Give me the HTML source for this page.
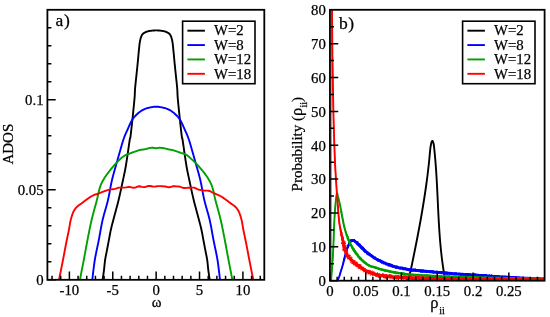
<!DOCTYPE html>
<html><head><meta charset="utf-8"><title>ADOS and probability plots</title>
<style>
html,body{margin:0;padding:0;background:#fff;width:550px;height:317px;overflow:hidden}
svg{display:block}
.t{font-family:"Liberation Serif","Times New Roman",serif;font-size:14.8px;fill:#000;stroke:#000;stroke-width:0.25px}
.sub{font-size:10px}
.lab{font-size:15px}
.rho{font-size:16.5px}
.tag{font-family:"Liberation Serif","Times New Roman",serif;font-size:17.5px;letter-spacing:0.6px;fill:#000;stroke:#000;stroke-width:0.25px}
</style></head><body>
<svg width="550" height="317" viewBox="0 0 550 317">
<rect width="550" height="317" fill="#fff"/>
<defs><clipPath id="ca"><rect x="47.40" y="9.80" width="216.90" height="270.00"/></clipPath>
<clipPath id="cb"><rect x="329.95" y="9.80" width="214.65" height="270.90"/></clipPath></defs>
<g clip-path="url(#ca)">
<polyline fill="none" stroke="#000000" stroke-width="1.90" stroke-linejoin="round" points="102.60,279.80 102.67,279.33 102.76,278.74 102.86,278.04 102.97,277.27 103.10,276.42 103.23,275.53 103.37,274.59 103.50,273.64 103.64,272.69 103.77,271.76 103.89,270.85 104.00,270.00 104.10,269.17 104.19,268.34 104.28,267.51 104.36,266.68 104.44,265.85 104.52,265.01 104.60,264.18 104.69,263.34 104.78,262.50 104.87,261.67 104.98,260.83 105.10,260.00 105.23,259.17 105.37,258.33 105.52,257.50 105.67,256.67 105.83,255.83 106.00,255.00 106.17,254.17 106.34,253.33 106.51,252.50 106.67,251.67 106.84,250.83 107.00,250.00 107.16,249.17 107.32,248.33 107.47,247.50 107.63,246.67 107.79,245.83 107.95,245.00 108.11,244.17 108.27,243.33 108.42,242.50 108.58,241.67 108.74,240.83 108.90,240.00 109.06,239.17 109.21,238.33 109.36,237.50 109.51,236.67 109.66,235.83 109.81,235.00 109.97,234.17 110.12,233.33 110.28,232.50 110.45,231.67 110.62,230.83 110.80,230.00 110.98,229.20 111.15,228.45 111.32,227.73 111.49,227.04 111.66,226.34 111.84,225.62 112.03,224.88 112.24,224.07 112.46,223.20 112.71,222.25 112.99,221.18 113.30,220.00 113.65,218.68 114.03,217.25 114.45,215.70 114.89,214.07 115.36,212.38 115.83,210.62 116.31,208.84 116.80,207.04 117.27,205.23 117.74,203.45 118.18,201.70 118.60,200.00 119.00,198.32 119.40,196.61 119.80,194.88 120.19,193.15 120.57,191.41 120.94,189.69 121.31,187.98 121.67,186.30 122.02,184.65 122.36,183.04 122.69,181.49 123.00,180.00 123.30,178.61 123.57,177.33 123.83,176.13 124.08,175.00 124.31,173.90 124.54,172.81 124.77,171.71 125.00,170.56 125.23,169.34 125.48,168.02 125.73,166.58 126.00,165.00 126.29,163.20 126.61,161.18 126.94,158.98 127.28,156.67 127.63,154.28 127.97,151.88 128.31,149.51 128.64,147.22 128.95,145.08 129.23,143.12 129.48,141.41 129.70,140.00 129.87,138.98 129.99,138.34 130.08,138.02 130.14,137.93 130.18,137.97 130.21,138.06 130.24,138.13 130.27,138.07 130.33,137.82 130.41,137.28 130.53,136.37 130.70,135.00 130.92,133.11 131.18,130.77 131.48,128.04 131.81,125.03 132.16,121.81 132.51,118.48 132.87,115.13 133.21,111.83 133.54,108.68 133.83,105.77 134.09,103.18 134.30,101.00 134.46,99.20 134.59,97.65 134.69,96.33 134.76,95.19 134.81,94.20 134.84,93.32 134.87,92.51 134.90,91.74 134.93,90.98 134.97,90.17 135.02,89.29 135.10,88.30 135.19,87.24 135.29,86.18 135.39,85.12 135.50,84.06 135.61,83.00 135.72,81.94 135.83,80.88 135.95,79.83 136.06,78.77 136.18,77.71 136.29,76.65 136.40,75.60 136.51,74.55 136.62,73.50 136.73,72.45 136.84,71.40 136.95,70.35 137.06,69.30 137.17,68.25 137.27,67.20 137.38,66.15 137.49,65.10 137.60,64.05 137.70,63.00 137.80,61.93 137.91,60.85 138.01,59.75 138.11,58.64 138.21,57.53 138.31,56.43 138.41,55.34 138.51,54.27 138.61,53.22 138.71,52.21 138.80,51.23 138.90,50.30 138.99,49.41 139.08,48.54 139.16,47.70 139.24,46.89 139.32,46.11 139.40,45.34 139.48,44.60 139.57,43.89 139.66,43.19 139.77,42.51 139.88,41.85 140.00,41.20 140.13,40.57 140.26,39.96 140.40,39.37 140.54,38.79 140.69,38.24 140.85,37.71 141.01,37.20 141.19,36.71 141.37,36.24 141.57,35.80 141.78,35.39 142.00,35.00 142.24,34.64 142.48,34.32 142.75,34.03 143.02,33.76 143.30,33.52 143.59,33.29 143.89,33.09 144.20,32.90 144.52,32.71 144.84,32.54 145.17,32.37 145.50,32.20 145.83,32.04 146.17,31.89 146.52,31.75 146.86,31.63 147.22,31.51 147.58,31.41 147.96,31.31 148.34,31.22 148.74,31.13 149.14,31.05 149.56,30.98 150.00,30.90 150.45,30.83 150.93,30.76 151.42,30.70 151.93,30.64 152.45,30.58 152.97,30.54 153.50,30.50 154.04,30.46 154.57,30.44 155.11,30.42 155.63,30.40 156.15,30.40 156.67,30.40 157.19,30.42 157.73,30.44 158.26,30.46 158.80,30.50 159.33,30.54 159.85,30.58 160.37,30.64 160.88,30.70 161.37,30.76 161.85,30.83 162.30,30.90 162.74,30.98 163.16,31.05 163.56,31.13 163.96,31.22 164.34,31.31 164.72,31.41 165.08,31.51 165.44,31.63 165.78,31.75 166.13,31.89 166.47,32.04 166.80,32.20 167.13,32.37 167.46,32.54 167.78,32.71 168.10,32.90 168.41,33.09 168.71,33.29 169.00,33.52 169.28,33.76 169.55,34.03 169.82,34.32 170.06,34.64 170.30,35.00 170.52,35.39 170.73,35.80 170.93,36.24 171.11,36.71 171.29,37.20 171.45,37.71 171.61,38.24 171.76,38.79 171.90,39.37 172.04,39.96 172.17,40.57 172.30,41.20 172.42,41.85 172.53,42.51 172.64,43.19 172.73,43.89 172.82,44.60 172.90,45.34 172.98,46.11 173.06,46.89 173.14,47.70 173.22,48.54 173.31,49.41 173.40,50.30 173.50,51.23 173.59,52.21 173.69,53.22 173.79,54.27 173.89,55.34 173.99,56.43 174.09,57.53 174.19,58.64 174.29,59.75 174.39,60.85 174.50,61.93 174.60,63.00 174.70,64.05 174.81,65.10 174.92,66.15 175.03,67.20 175.13,68.25 175.24,69.30 175.35,70.35 175.46,71.40 175.57,72.45 175.68,73.50 175.79,74.55 175.90,75.60 176.01,76.65 176.12,77.71 176.24,78.77 176.35,79.83 176.47,80.88 176.58,81.94 176.69,83.00 176.80,84.06 176.91,85.12 177.01,86.18 177.11,87.24 177.20,88.30 177.28,89.29 177.33,90.17 177.37,90.98 177.40,91.74 177.43,92.51 177.46,93.32 177.49,94.20 177.54,95.19 177.61,96.33 177.71,97.65 177.84,99.20 178.00,101.00 178.21,103.18 178.47,105.77 178.76,108.68 179.09,111.83 179.43,115.13 179.79,118.48 180.14,121.81 180.49,125.03 180.82,128.04 181.12,130.77 181.38,133.11 181.60,135.00 181.77,136.37 181.89,137.28 181.97,137.82 182.03,138.07 182.06,138.13 182.09,138.06 182.12,137.97 182.16,137.93 182.22,138.02 182.31,138.34 182.43,138.98 182.60,140.00 182.82,141.41 183.07,143.12 183.35,145.08 183.66,147.22 183.99,149.51 184.33,151.88 184.67,154.28 185.02,156.67 185.36,158.98 185.69,161.18 186.01,163.20 186.30,165.00 186.57,166.58 186.82,168.02 187.07,169.34 187.30,170.56 187.53,171.71 187.76,172.81 187.99,173.90 188.22,175.00 188.47,176.13 188.73,177.33 189.00,178.61 189.30,180.00 189.61,181.49 189.94,183.04 190.28,184.65 190.63,186.30 190.99,187.98 191.36,189.69 191.73,191.41 192.11,193.15 192.50,194.88 192.90,196.61 193.30,198.32 193.70,200.00 194.12,201.70 194.56,203.45 195.03,205.23 195.50,207.04 195.99,208.84 196.47,210.62 196.94,212.38 197.41,214.07 197.85,215.70 198.27,217.25 198.65,218.68 199.00,220.00 199.31,221.18 199.59,222.25 199.84,223.20 200.06,224.07 200.27,224.88 200.46,225.62 200.64,226.34 200.81,227.04 200.98,227.73 201.15,228.45 201.32,229.20 201.50,230.00 201.68,230.83 201.85,231.67 202.02,232.50 202.18,233.33 202.33,234.17 202.49,235.00 202.64,235.83 202.79,236.67 202.94,237.50 203.09,238.33 203.24,239.17 203.40,240.00 203.56,240.83 203.72,241.67 203.88,242.50 204.03,243.33 204.19,244.17 204.35,245.00 204.51,245.83 204.67,246.67 204.83,247.50 204.98,248.33 205.14,249.17 205.30,250.00 205.46,250.83 205.63,251.67 205.79,252.50 205.96,253.33 206.13,254.17 206.30,255.00 206.47,255.83 206.63,256.67 206.78,257.50 206.93,258.33 207.07,259.17 207.20,260.00 207.32,260.83 207.43,261.67 207.52,262.50 207.61,263.34 207.70,264.18 207.78,265.01 207.86,265.85 207.94,266.68 208.02,267.51 208.11,268.34 208.20,269.17 208.30,270.00 208.41,270.85 208.53,271.76 208.66,272.69 208.80,273.64 208.93,274.59 209.07,275.52 209.20,276.42 209.33,277.27 209.44,278.04 209.54,278.74 209.63,279.33 209.70,279.80"/>
<polyline fill="none" stroke="#0000ff" stroke-width="1.90" stroke-linejoin="round" points="92.30,279.80 92.42,278.84 92.55,277.65 92.71,276.25 92.89,274.67 93.09,272.96 93.30,271.15 93.53,269.27 93.76,267.35 94.01,265.43 94.27,263.54 94.53,261.72 94.80,260.00 95.08,258.34 95.38,256.68 95.70,255.01 96.03,253.35 96.37,251.68 96.72,250.01 97.07,248.34 97.43,246.67 97.78,245.00 98.13,243.34 98.47,241.67 98.80,240.00 99.12,238.33 99.43,236.67 99.73,235.00 100.02,233.33 100.32,231.67 100.61,230.00 100.91,228.33 101.22,226.67 101.54,225.00 101.88,223.33 102.23,221.67 102.60,220.00 103.00,218.33 103.42,216.67 103.87,215.00 104.33,213.33 104.81,211.67 105.29,210.00 105.77,208.33 106.24,206.67 106.71,205.00 107.16,203.33 107.59,201.67 108.00,200.00 108.38,198.33 108.73,196.67 109.06,195.00 109.38,193.33 109.69,191.67 109.99,190.00 110.30,188.33 110.61,186.67 110.93,185.00 111.26,183.33 111.62,181.67 112.00,180.00 112.40,178.33 112.83,176.67 113.26,175.00 113.71,173.33 114.17,171.67 114.64,170.00 115.11,168.33 115.59,166.67 116.07,165.00 116.55,163.33 117.03,161.67 117.50,160.00 117.98,158.30 118.47,156.56 118.96,154.78 119.47,152.98 119.97,151.19 120.48,149.41 120.97,147.66 121.47,145.96 121.95,144.33 122.42,142.78 122.87,141.33 123.30,140.00 123.71,138.79 124.10,137.70 124.46,136.70 124.82,135.79 125.16,134.94 125.50,134.14 125.83,133.38 126.17,132.63 126.51,131.89 126.86,131.13 127.22,130.34 127.60,129.50 127.99,128.62 128.38,127.73 128.77,126.82 129.17,125.91 129.57,125.01 129.97,124.11 130.39,123.22 130.81,122.35 131.24,121.51 131.68,120.70 132.14,119.93 132.60,119.20 133.08,118.51 133.57,117.85 134.08,117.22 134.60,116.62 135.13,116.05 135.67,115.49 136.21,114.96 136.75,114.46 137.29,113.97 137.83,113.50 138.37,113.04 138.90,112.60 139.42,112.18 139.93,111.78 140.44,111.41 140.95,111.05 141.46,110.72 141.97,110.40 142.48,110.10 143.00,109.81 143.53,109.54 144.07,109.29 144.63,109.04 145.20,108.80 145.80,108.58 146.44,108.37 147.11,108.17 147.79,108.00 148.49,107.83 149.18,107.68 149.87,107.54 150.53,107.41 151.17,107.30 151.76,107.19 152.31,107.09 152.80,107.00 153.23,106.92 153.60,106.86 153.94,106.81 154.23,106.77 154.50,106.74 154.74,106.72 154.97,106.71 155.19,106.70 155.41,106.70 155.64,106.70 155.88,106.70 156.15,106.70 156.42,106.70 156.66,106.70 156.89,106.70 157.11,106.70 157.33,106.71 157.56,106.72 157.80,106.74 158.07,106.77 158.36,106.81 158.70,106.86 159.07,106.92 159.50,107.00 159.99,107.09 160.54,107.19 161.13,107.30 161.77,107.41 162.43,107.54 163.12,107.68 163.81,107.83 164.51,108.00 165.19,108.17 165.86,108.37 166.50,108.58 167.10,108.80 167.67,109.04 168.23,109.29 168.77,109.54 169.30,109.81 169.82,110.10 170.33,110.40 170.84,110.72 171.35,111.05 171.86,111.41 172.37,111.78 172.88,112.18 173.40,112.60 173.93,113.04 174.47,113.50 175.01,113.97 175.55,114.46 176.09,114.96 176.63,115.49 177.17,116.05 177.70,116.62 178.22,117.22 178.73,117.85 179.22,118.51 179.70,119.20 180.16,119.93 180.62,120.70 181.06,121.51 181.49,122.35 181.91,123.22 182.33,124.11 182.73,125.01 183.13,125.91 183.53,126.82 183.92,127.73 184.31,128.62 184.70,129.50 185.08,130.34 185.44,131.13 185.79,131.89 186.13,132.63 186.47,133.38 186.80,134.14 187.14,134.94 187.48,135.79 187.84,136.70 188.20,137.70 188.59,138.79 189.00,140.00 189.43,141.33 189.88,142.78 190.35,144.33 190.83,145.96 191.33,147.66 191.83,149.41 192.33,151.19 192.83,152.98 193.34,154.78 193.83,156.56 194.32,158.30 194.80,160.00 195.27,161.67 195.75,163.33 196.23,165.00 196.71,166.67 197.19,168.33 197.66,170.00 198.13,171.67 198.59,173.33 199.04,175.00 199.47,176.67 199.90,178.33 200.30,180.00 200.68,181.67 201.04,183.33 201.37,185.00 201.69,186.67 202.00,188.33 202.31,190.00 202.61,191.67 202.92,193.33 203.24,195.00 203.57,196.67 203.92,198.33 204.30,200.00 204.71,201.67 205.14,203.33 205.59,205.00 206.06,206.67 206.53,208.33 207.01,210.00 207.49,211.67 207.97,213.33 208.43,215.00 208.88,216.67 209.30,218.33 209.70,220.00 210.07,221.67 210.42,223.33 210.76,225.00 211.08,226.67 211.39,228.33 211.69,230.00 211.98,231.67 212.28,233.33 212.57,235.00 212.87,236.67 213.18,238.33 213.50,240.00 213.83,241.67 214.17,243.34 214.52,245.00 214.87,246.67 215.23,248.34 215.58,250.01 215.93,251.68 216.27,253.35 216.60,255.01 216.92,256.68 217.22,258.34 217.50,260.00 217.77,261.72 218.03,263.54 218.29,265.43 218.54,267.35 218.77,269.27 219.00,271.15 219.21,272.96 219.41,274.67 219.59,276.25 219.75,277.65 219.88,278.84 220.00,279.80"/>
<polyline fill="none" stroke="#00a000" stroke-width="1.90" stroke-linejoin="round" points="80.00,279.80 80.09,279.33 80.19,278.74 80.32,278.04 80.46,277.27 80.61,276.42 80.78,275.53 80.94,274.59 81.12,273.64 81.29,272.69 81.47,271.76 81.64,270.85 81.80,270.00 81.95,269.21 82.10,268.46 82.25,267.75 82.39,267.05 82.53,266.35 82.68,265.64 82.84,264.89 83.00,264.08 83.18,263.21 83.37,262.25 83.57,261.18 83.80,260.00 84.05,258.68 84.31,257.25 84.60,255.70 84.89,254.07 85.20,252.38 85.52,250.62 85.84,248.84 86.17,247.04 86.51,245.23 86.84,243.45 87.17,241.70 87.50,240.00 87.82,238.33 88.15,236.67 88.47,235.00 88.79,233.33 89.12,231.67 89.45,230.00 89.79,228.33 90.13,226.67 90.48,225.00 90.84,223.33 91.22,221.67 91.60,220.00 92.01,218.30 92.45,216.53 92.92,214.73 93.40,212.91 93.90,211.08 94.39,209.28 94.87,207.52 95.34,205.81 95.79,204.19 96.20,202.67 96.57,201.26 96.90,200.00 97.18,198.88 97.41,197.89 97.61,197.01 97.79,196.23 97.93,195.53 98.06,194.89 98.18,194.30 98.29,193.74 98.40,193.20 98.52,192.66 98.65,192.09 98.80,191.50 98.95,190.90 99.10,190.32 99.24,189.77 99.39,189.24 99.53,188.72 99.67,188.21 99.82,187.71 99.97,187.22 100.13,186.72 100.31,186.22 100.50,185.72 100.70,185.20 100.92,184.67 101.14,184.15 101.38,183.62 101.63,183.10 101.88,182.57 102.14,182.05 102.42,181.52 102.70,181.00 102.99,180.47 103.28,179.95 103.59,179.42 103.90,178.90 104.22,178.38 104.56,177.85 104.90,177.33 105.26,176.80 105.62,176.28 105.99,175.75 106.36,175.22 106.74,174.70 107.13,174.18 107.52,173.65 107.91,173.13 108.30,172.60 108.70,172.07 109.10,171.54 109.51,171.00 109.92,170.47 110.34,169.95 110.76,169.42 111.18,168.89 111.60,168.37 112.03,167.86 112.45,167.35 112.88,166.85 113.30,166.36 113.72,165.88 114.13,165.41 114.53,164.95 114.94,164.50 115.34,164.05 115.75,163.60 116.16,163.14 116.59,162.69 117.02,162.23 117.46,161.76 117.92,161.29 118.40,160.82 118.90,160.33 119.42,159.82 119.97,159.31 120.52,158.80 121.09,158.30 121.66,157.81 122.24,157.35 122.81,156.91 123.38,156.49 123.93,156.11 124.48,155.76 125.00,155.45 125.50,155.18 125.97,154.95 126.42,154.74 126.86,154.57 127.30,154.41 127.73,154.26 128.17,154.11 128.63,153.96 129.10,153.80 129.60,153.62 130.13,153.43 130.70,153.22 131.32,152.99 131.98,152.73 132.67,152.46 133.40,152.19 134.14,151.90 134.89,151.61 135.65,151.32 136.40,151.04 137.14,150.78 137.86,150.54 138.55,150.34 139.20,150.16 139.82,150.02 140.41,149.90 140.98,149.80 141.54,149.72 142.08,149.66 142.62,149.60 143.15,149.54 143.67,149.47 144.19,149.39 144.72,149.29 145.26,149.17 145.80,149.04 146.36,148.88 146.93,148.72 147.52,148.55 148.11,148.39 148.69,148.24 149.28,148.10 149.85,147.99 150.41,147.91 150.95,147.84 151.46,147.78 151.95,147.74 152.40,147.72 152.81,147.72 153.19,147.74 153.54,147.78 153.86,147.83 154.16,147.89 154.45,147.95 154.73,148.02 155.01,148.08 155.28,148.14 155.56,148.19 155.85,148.22 156.15,148.24 156.45,148.23 156.74,148.21 157.02,148.17 157.29,148.12 157.57,148.06 157.85,148.00 158.14,147.94 158.44,147.88 158.76,147.84 159.11,147.80 159.49,147.78 159.90,147.78 160.35,147.80 160.84,147.83 161.35,147.88 161.89,147.94 162.45,148.01 163.02,148.09 163.61,148.19 164.19,148.29 164.78,148.41 165.37,148.55 165.94,148.69 166.50,148.84 167.04,148.98 167.58,149.11 168.11,149.23 168.63,149.35 169.15,149.45 169.68,149.56 170.22,149.66 170.76,149.75 171.32,149.84 171.89,149.95 172.48,150.08 173.10,150.23 173.75,150.41 174.44,150.62 175.16,150.85 175.90,151.11 176.65,151.38 177.41,151.67 178.16,151.97 178.90,152.24 179.63,152.49 180.32,152.71 180.98,152.91 181.60,153.08 182.17,153.24 182.70,153.38 183.20,153.51 183.67,153.63 184.13,153.77 184.57,153.91 185.00,154.07 185.44,154.26 185.88,154.48 186.33,154.75 186.80,155.06 187.30,155.42 187.82,155.84 188.37,156.30 188.92,156.80 189.49,157.31 190.06,157.84 190.64,158.37 191.21,158.90 191.78,159.40 192.33,159.89 192.88,160.36 193.40,160.83 193.90,161.28 194.38,161.73 194.84,162.16 195.28,162.60 195.71,163.04 196.14,163.47 196.55,163.91 196.96,164.36 197.36,164.80 197.77,165.26 198.17,165.72 198.58,166.19 199.00,166.67 199.42,167.16 199.85,167.66 200.27,168.16 200.70,168.67 201.12,169.18 201.54,169.69 201.96,170.21 202.38,170.47 202.79,171.00 203.20,171.54 203.60,172.07 204.00,172.60 204.39,173.12 204.78,173.65 205.17,174.17 205.56,174.70 205.94,175.22 206.31,175.75 206.68,176.28 207.04,176.80 207.40,177.32 207.74,177.85 208.08,178.37 208.40,178.90 208.71,179.43 209.02,179.95 209.31,180.47 209.60,181.00 209.88,181.53 210.16,182.05 210.42,182.58 210.67,183.10 210.92,183.63 211.16,184.15 211.38,184.68 211.60,185.20 211.80,185.72 211.99,186.22 212.17,186.72 212.33,187.22 212.48,187.71 212.63,188.21 212.77,188.72 212.91,189.24 213.06,189.77 213.20,190.32 213.35,190.90 213.50,191.50 213.65,192.09 213.78,192.66 213.90,193.20 214.01,193.74 214.12,194.30 214.24,194.89 214.37,195.53 214.51,196.23 214.69,197.01 214.89,197.89 215.12,198.88 215.40,200.00 215.73,201.26 216.10,202.67 216.51,204.19 216.96,205.81 217.43,207.52 217.91,209.28 218.40,211.08 218.90,212.91 219.38,214.73 219.85,216.53 220.29,218.30 220.70,220.00 221.08,221.67 221.46,223.33 221.82,225.00 222.17,226.67 222.51,228.33 222.85,230.00 223.18,231.67 223.51,233.33 223.83,235.00 224.15,236.67 224.48,238.33 224.80,240.00 225.13,241.70 225.46,243.45 225.79,245.23 226.13,247.04 226.46,248.84 226.78,250.62 227.10,252.38 227.41,254.07 227.70,255.70 227.99,257.25 228.25,258.68 228.50,260.00 228.73,261.18 228.93,262.25 229.12,263.21 229.30,264.08 229.46,264.89 229.62,265.64 229.77,266.35 229.91,267.05 230.05,267.75 230.20,268.46 230.35,269.21 230.50,270.00 230.66,270.85 230.83,271.76 231.01,272.69 231.18,273.64 231.36,274.59 231.53,275.52 231.69,276.42 231.84,277.27 231.98,278.04 232.11,278.74 232.21,279.33 232.30,279.80"/>
<polyline fill="none" stroke="#ff0000" stroke-width="1.90" stroke-linejoin="round" points="59.00,279.80 59.19,278.85 59.43,277.65 59.72,276.24 60.04,274.66 60.39,272.94 60.76,271.12 61.13,269.25 61.51,267.36 61.89,265.49 62.25,263.68 62.59,261.97 62.90,260.40 63.19,258.92 63.47,257.47 63.74,256.03 64.00,254.62 64.26,253.23 64.51,251.86 64.76,250.51 65.01,249.18 65.26,247.86 65.50,246.56 65.75,245.27 66.00,244.00 66.25,242.73 66.51,241.48 66.77,240.23 67.03,238.99 67.28,237.77 67.54,236.57 67.79,235.39 68.03,234.24 68.26,233.13 68.49,232.05 68.70,231.00 68.90,230.00 69.08,229.04 69.25,228.13 69.40,227.26 69.53,226.43 69.66,225.62 69.79,224.84 69.91,224.09 70.03,223.35 70.16,222.63 70.30,221.92 70.44,221.21 70.60,220.50 70.77,219.79 70.95,219.09 71.14,218.40 71.33,217.72 71.52,217.06 71.72,216.41 71.92,215.78 72.12,215.17 72.32,214.58 72.52,214.02 72.71,213.50 72.90,213.00 73.08,212.54 73.27,212.12 73.44,211.73 73.62,211.37 73.79,211.03 73.97,210.72 74.15,210.42 74.33,210.13 74.51,209.85 74.70,209.57 74.90,209.29 75.10,209.00 75.31,208.71 75.52,208.44 75.74,208.17 75.96,207.91 76.18,207.66 76.41,207.41 76.65,207.17 76.89,206.93 77.13,206.70 77.38,206.47 77.64,206.23 77.90,206.00 78.17,205.77 78.44,205.56 78.71,205.35 78.99,205.15 79.27,204.95 79.56,204.75 79.86,204.55 80.17,204.34 80.48,204.12 80.81,203.90 81.15,203.66 81.50,203.40 81.87,203.12 82.25,202.83 82.64,202.53 83.04,202.21 83.46,201.89 83.88,201.56 84.31,201.23 84.74,200.90 85.18,200.56 85.62,200.24 86.06,199.91 86.50,199.60 86.94,199.29 87.39,198.97 87.84,198.66 88.29,198.34 88.75,198.03 89.21,197.71 89.68,197.40 90.14,197.10 90.61,196.81 91.07,196.53 91.54,196.26 92.00,196.00 92.46,195.76 92.92,195.53 93.37,195.32 93.83,195.11 94.29,194.91 94.74,194.73 95.20,194.54 95.67,194.36 96.14,194.17 96.62,194.36 97.11,194.14 97.60,193.92 98.11,193.70 98.62,193.48 99.14,193.27 99.67,193.06 100.20,192.84 100.74,192.61 101.29,192.39 101.83,192.16 102.37,191.94 102.92,191.73 103.46,191.54 104.00,191.35 104.52,191.18 105.01,191.01 105.48,190.84 105.94,190.68 106.40,190.52 106.87,190.36 107.36,190.21 107.89,190.06 108.45,189.91 109.07,189.77 109.75,189.64 110.50,189.52 111.31,189.41 112.16,189.31 113.05,189.20 113.98,189.07 114.95,188.86 115.97,188.53 117.03,188.15 118.13,187.81 119.28,187.63 120.47,187.59 121.71,187.63 123.00,187.66 124.37,187.60 125.85,187.37 127.41,187.09 129.03,186.90 130.70,187.11 132.40,187.57 134.10,187.76 135.79,187.31 137.44,186.63 139.04,186.27 140.57,186.47 142.00,186.88 143.35,187.16 144.64,187.10 145.88,186.74 147.08,186.29 148.24,185.94 149.38,185.83 150.50,185.97 151.61,186.23 152.73,186.47 153.85,186.60 154.99,186.53 156.15,186.37 157.31,186.20 158.45,186.09 159.57,186.10 160.69,186.16 161.80,186.23 162.92,186.30 164.06,186.36 165.22,186.51 166.42,186.79 167.66,187.07 168.95,187.25 170.30,187.11 171.73,186.67 173.26,186.28 174.86,186.28 176.51,186.38 178.20,186.49 179.90,186.68 181.60,187.34 183.27,187.95 184.89,188.07 186.45,187.92 187.93,187.78 189.30,187.81 190.59,187.78 191.83,187.67 193.02,187.60 194.17,187.67 195.27,188.02 196.33,188.54 197.35,189.08 198.32,189.49 199.25,189.70 200.14,189.84 200.99,189.97 201.80,190.09 202.55,190.22 203.23,190.36 203.85,190.49 204.41,190.61 204.94,190.66 205.43,190.67 205.90,190.66 206.36,190.64 206.82,190.63 207.29,190.62 207.78,190.63 208.30,190.69 208.84,190.80 209.38,190.99 209.93,191.22 210.47,191.47 211.01,191.74 211.56,192.02 212.10,192.30 212.63,192.58 213.16,192.84 213.68,193.07 214.19,193.28 214.70,193.46 215.19,193.62 215.68,193.76 216.16,194.17 216.63,194.36 217.10,194.54 217.56,194.72 218.01,194.91 218.47,195.11 218.93,195.32 219.38,195.53 219.84,195.76 220.30,196.00 220.76,196.26 221.23,196.53 221.69,196.81 222.16,197.10 222.62,197.40 223.09,197.71 223.55,198.03 224.01,198.34 224.46,198.66 224.91,198.97 225.36,199.29 225.80,199.60 226.24,199.91 226.68,200.24 227.12,200.56 227.56,200.90 227.99,201.23 228.42,201.56 228.84,201.89 229.26,202.21 229.66,202.53 230.05,202.83 230.43,203.12 230.80,203.40 231.15,203.66 231.49,203.90 231.82,204.12 232.13,204.34 232.44,204.55 232.74,204.75 233.03,204.95 233.31,205.15 233.59,205.35 233.86,205.56 234.13,205.77 234.40,206.00 234.66,206.23 234.92,206.47 235.17,206.70 235.41,206.93 235.65,207.17 235.89,207.41 236.12,207.66 236.34,207.91 236.56,208.17 236.78,208.44 236.99,208.71 237.20,209.00 237.40,209.29 237.60,209.57 237.79,209.85 237.97,210.13 238.15,210.42 238.33,210.72 238.51,211.03 238.68,211.37 238.86,211.73 239.03,212.12 239.22,212.54 239.40,213.00 239.59,213.50 239.78,214.02 239.98,214.58 240.18,215.17 240.38,215.78 240.58,216.41 240.78,217.06 240.97,217.72 241.16,218.40 241.35,219.09 241.53,219.79 241.70,220.50 241.86,221.21 242.00,221.92 242.14,222.63 242.27,223.35 242.39,224.09 242.51,224.84 242.64,225.62 242.77,226.43 242.90,227.26 243.05,228.13 243.22,229.04 243.40,230.00 243.60,231.00 243.81,232.05 244.04,233.13 244.27,234.24 244.51,235.39 244.76,236.57 245.02,237.77 245.27,238.99 245.53,240.23 245.79,241.48 246.05,242.73 246.30,244.00 246.55,245.27 246.80,246.56 247.04,247.86 247.29,249.18 247.54,250.51 247.79,251.86 248.04,253.23 248.30,254.62 248.56,256.03 248.83,257.47 249.11,258.92 249.40,260.40 249.71,261.97 250.05,263.68 250.41,265.49 250.79,267.36 251.17,269.25 251.54,271.12 251.91,272.94 252.26,274.66 252.58,276.24 252.87,277.65 253.11,278.85 253.30,279.80"/>
</g>
<g clip-path="url(#cb)">
<line x1="331.25" y1="281" x2="331.25" y2="5" stroke="#ff0000" stroke-width="0.9" stroke-opacity="0.75"/>
<polyline fill="none" stroke="#000000" stroke-width="1.90" stroke-linejoin="round" points="325.00,281.60 329.78,281.60 336.34,281.61 344.22,281.61 353.01,281.62 362.25,281.63 371.51,281.63 380.36,281.63 388.34,281.63 395.04,281.62 400.00,281.60 403.28,281.58 405.36,281.56 406.46,281.54 406.77,281.51 406.51,281.48 405.89,281.44 405.12,281.40 404.41,281.34 403.97,281.28 404.00,281.20 404.33,281.11 404.66,281.00 404.97,280.89 405.27,280.76 405.56,280.63 405.84,280.49 406.10,280.35 406.35,280.20 406.58,280.05 406.80,279.90 407.00,279.75 407.18,279.59 407.34,279.44 407.49,279.27 407.62,279.11 407.75,278.94 407.86,278.76 407.98,278.58 408.09,278.39 408.20,278.20 408.30,278.02 408.39,277.85 408.47,277.70 408.55,277.54 408.62,277.37 408.69,277.18 408.77,276.96 408.85,276.69 408.95,276.38 409.07,276.00 409.20,275.57 409.35,275.11 409.50,274.61 409.67,274.07 409.84,273.49 410.02,272.87 410.20,272.21 410.38,271.52 410.57,270.78 410.76,270.00 410.95,269.16 411.15,268.26 411.36,267.29 411.57,266.29 411.78,265.25 412.00,264.19 412.21,263.13 412.43,262.06 412.64,261.02 412.85,260.00 413.06,259.00 413.26,258.00 413.47,257.00 413.67,256.00 413.88,255.00 414.08,254.00 414.28,253.00 414.49,252.00 414.69,251.00 414.89,250.00 415.09,249.00 415.29,248.00 415.49,247.00 415.69,246.00 415.89,245.00 416.09,244.00 416.28,243.00 416.48,242.00 416.68,241.00 416.87,240.00 417.06,239.00 417.26,238.00 417.45,237.00 417.64,236.00 417.83,235.00 418.02,234.00 418.21,233.00 418.40,232.00 418.59,231.00 418.78,230.00 418.97,229.00 419.15,228.00 419.34,227.00 419.53,226.00 419.71,225.00 419.89,224.00 420.08,223.00 420.26,222.00 420.44,221.00 420.62,220.00 420.80,219.00 420.98,218.00 421.15,217.00 421.33,216.00 421.50,215.00 421.68,214.00 421.85,213.00 422.02,212.00 422.19,211.00 422.36,210.00 422.53,209.00 422.69,208.00 422.86,207.00 423.03,206.00 423.19,205.00 423.35,204.00 423.51,203.00 423.67,202.00 423.83,201.00 423.99,200.00 424.15,199.00 424.30,198.00 424.46,197.00 424.61,196.00 424.77,195.00 424.92,194.00 425.07,193.00 425.22,192.00 425.36,191.00 425.51,190.00 425.65,189.00 425.80,188.00 425.94,187.00 426.08,186.00 426.22,185.00 426.36,184.00 426.50,183.00 426.63,182.00 426.77,181.00 426.90,180.00 427.03,179.00 427.16,178.00 427.29,177.00 427.41,176.00 427.54,175.00 427.66,174.00 427.78,173.00 427.90,172.00 428.02,171.00 428.14,170.00 428.26,169.00 428.37,168.00 428.49,167.00 428.60,166.00 428.71,165.00 428.82,164.00 428.93,163.00 429.03,162.00 429.14,161.00 429.24,160.00 429.34,158.98 429.44,157.91 429.54,156.83 429.63,155.74 429.73,154.66 429.82,153.60 429.91,152.60 430.00,151.65 430.08,150.78 430.16,150.00 430.24,149.32 430.30,148.73 430.37,148.20 430.43,147.74 430.49,147.33 430.55,146.94 430.61,146.58 430.67,146.23 430.73,145.87 430.80,145.50 430.87,145.12 430.93,144.75 431.00,144.39 431.07,144.04 431.13,143.71 431.20,143.39 431.27,143.09 431.35,142.80 431.42,142.54 431.50,142.30 431.58,142.07 431.67,141.86 431.76,141.66 431.85,141.48 431.94,141.31 432.04,141.17 432.13,141.06 432.22,140.97 432.31,140.92 432.40,140.90 432.48,140.92 432.57,140.98 432.65,141.07 432.74,141.20 432.82,141.34 432.90,141.51 432.98,141.70 433.05,141.89 433.13,142.09 433.20,142.30 433.27,142.51 433.34,142.72 433.40,142.94 433.46,143.18 433.52,143.43 433.58,143.69 433.64,143.98 433.70,144.29 433.76,144.63 433.82,145.00 433.88,145.38 433.93,145.77 433.98,146.17 434.03,146.59 434.08,147.04 434.13,147.53 434.19,148.06 434.24,148.64 434.31,149.29 434.38,150.00 434.46,150.80 434.55,151.68 434.64,152.63 434.74,153.64 434.84,154.69 434.94,155.76 435.04,156.84 435.14,157.92 435.23,158.98 435.32,160.00 435.40,161.00 435.49,162.00 435.57,163.00 435.64,164.00 435.72,165.00 435.79,166.00 435.87,167.00 435.94,168.00 436.01,169.00 436.08,170.00 436.15,171.00 436.21,172.00 436.28,173.00 436.34,174.00 436.40,175.00 436.47,176.00 436.53,177.00 436.58,178.00 436.64,179.00 436.70,180.00 436.76,181.00 436.81,182.00 436.87,183.00 436.92,184.00 436.97,185.00 437.03,186.00 437.08,187.00 437.13,188.00 437.18,189.00 437.23,190.00 437.28,191.00 437.33,192.00 437.38,193.00 437.43,194.00 437.47,195.00 437.52,196.00 437.57,197.00 437.62,198.00 437.66,199.00 437.71,200.00 437.76,201.00 437.80,202.00 437.85,203.00 437.90,204.00 437.94,205.00 437.99,206.00 438.04,207.00 438.08,208.00 438.13,209.00 438.18,210.00 438.23,211.00 438.28,212.00 438.33,213.00 438.38,214.00 438.43,215.00 438.48,216.00 438.54,217.00 438.59,218.00 438.64,219.00 438.70,220.00 438.76,221.00 438.81,222.00 438.87,223.00 438.93,224.00 438.99,225.00 439.05,226.00 439.11,227.00 439.17,228.00 439.23,229.00 439.30,230.00 439.37,231.00 439.43,232.00 439.50,233.00 439.57,234.00 439.65,235.00 439.72,236.00 439.79,237.00 439.87,238.00 439.95,239.00 440.03,240.00 440.11,241.00 440.20,242.00 440.29,243.00 440.37,244.00 440.46,245.00 440.56,246.00 440.65,247.00 440.75,248.00 440.85,249.00 440.95,250.00 441.05,251.00 441.16,252.00 441.27,253.00 441.38,254.00 441.49,255.00 441.60,256.00 441.72,257.00 441.84,258.00 441.96,259.00 442.09,260.00 442.22,261.02 442.36,262.06 442.51,263.13 442.65,264.19 442.80,265.25 442.95,266.29 443.10,267.29 443.24,268.26 443.37,269.16 443.50,270.00 443.62,270.78 443.72,271.50 443.83,272.19 443.93,272.83 444.02,273.44 444.11,274.01 444.20,274.55 444.30,275.06 444.39,275.54 444.49,276.00 444.59,276.43 444.67,276.81 444.76,277.16 444.85,277.48 444.93,277.78 445.02,278.04 445.12,278.30 445.23,278.54 445.36,278.77 445.50,279.00 445.66,279.22 445.83,279.42 446.01,279.60 446.20,279.77 446.41,279.93 446.62,280.08 446.83,280.22 447.05,280.35 447.28,280.47 447.50,280.60 447.29,280.72 446.41,280.84 445.14,280.95 443.78,281.05 442.62,281.14 441.96,281.23 442.07,281.31 443.25,281.38 445.80,281.45 450.00,281.50 456.50,281.54 465.36,281.57 475.98,281.59 487.78,281.60 500.16,281.61 512.52,281.61 524.28,281.60 534.84,281.60 543.61,281.60 550.00,281.60"/>
<polyline fill="none" stroke="#0000ff" stroke-width="1.90" stroke-linejoin="round" stroke-linecap="round" points="325.00,281.60 325.63,281.60 326.48,281.60 327.51,281.61 328.65,281.61 329.86,281.61 331.08,281.61 332.26,281.60 333.34,281.58 334.27,281.55 335.00,281.50 335.54,281.45 335.95,281.39 336.25,281.33 336.47,281.27 336.62,281.19 336.73,281.09 336.82,280.98 336.92,280.85 337.04,280.69 337.20,280.50 337.39,280.28 337.57,280.04 337.75,279.78 337.92,279.50 338.09,279.20 338.25,278.88 338.41,278.54 338.57,278.18 338.74,277.80 338.90,277.40 339.06,276.99 339.21,276.57 339.36,276.14 339.50,275.69 339.65,275.22 339.80,274.72 339.96,274.20 340.12,273.64 340.30,273.04 340.50,272.40 340.72,271.71 340.95,270.96 341.20,270.18 341.46,269.35 341.73,268.50 341.99,267.63 342.26,266.76 342.52,265.89 342.77,265.03 343.00,264.20 343.22,263.37 343.44,262.52 343.65,261.65 343.86,260.79 344.06,259.93"/>
<polyline fill="none" stroke="#0000ff" stroke-width="2.00" stroke-linejoin="round" stroke-linecap="round" points="344.06,259.93 344.25,259.09 344.45,258.26 344.63,257.47 344.82,256.71 345.00,256.00 345.18,255.34 345.34,254.72 345.51,254.14 345.66,253.58 345.82,253.05"/>
<polyline fill="none" stroke="#0000ff" stroke-width="2.10" stroke-linejoin="round" stroke-linecap="round" points="345.82,253.05 345.97,252.53 346.13,252.03 346.28,251.52 346.44,251.02 346.60,250.50 346.77,249.97 346.93,249.45 347.10,248.92 347.26,248.40 347.43,247.89 347.60,247.38"/>
<polyline fill="none" stroke="#0000ff" stroke-width="2.20" stroke-linejoin="round" stroke-linecap="round" points="347.60,247.38 347.77,246.89 347.95,246.41 348.12,245.95 348.30,245.50 348.48,245.07 348.67,244.64 348.86,244.22 349.05,243.82 349.24,243.42 349.44,243.05"/>
<polyline fill="none" stroke="#0000ff" stroke-width="2.30" stroke-linejoin="round" stroke-linecap="round" points="349.44,243.05 349.63,242.70 349.82,242.37 350.01,242.07 350.20,241.80 350.38,241.56 350.56,241.35 350.74,241.16 350.92,241.00 351.09,240.86 351.27,240.73"/>
<polyline fill="none" stroke="#0000ff" stroke-width="2.40" stroke-linejoin="round" stroke-linecap="round" points="351.27,240.73 351.45,240.63 351.63,240.54 351.81,240.46 352.00,240.40 352.19,240.35 352.39,240.32 352.59,240.30 352.79,240.30 352.99,240.32 353.19,240.35"/>
<polyline fill="none" stroke="#0000ff" stroke-width="2.50" stroke-linejoin="round" stroke-linecap="round" points="353.19,240.35 353.39,240.39 353.60,240.45 353.80,240.52 354.00,240.60 354.20,240.69 354.38,240.80 354.57,240.91 354.75,241.04 354.94,241.19"/>
<polyline fill="none" stroke="#0000ff" stroke-width="2.60" stroke-linejoin="round" stroke-linecap="round" points="354.94,241.19 355.13,241.34 355.33,241.51 355.54,241.70 355.76,241.89 356.00,242.10 356.26,242.33 356.54,242.57 356.83,242.84"/>
<polyline fill="none" stroke="#0000ff" stroke-width="2.70" stroke-linejoin="round" stroke-linecap="round" points="356.83,242.84 357.13,243.11 357.44,243.40 357.75,243.70 358.07,244.00 358.38,244.30 358.70,244.60"/>
<polyline fill="none" stroke="#0000ff" stroke-width="2.80" stroke-linejoin="round" stroke-linecap="round" points="358.70,244.60 359.00,244.90 359.30,245.20 359.60,245.51 359.90,245.82 360.20,246.13 360.50,246.45"/>
<polyline fill="none" stroke="#0000ff" stroke-width="2.90" stroke-linejoin="round" stroke-linecap="round" points="360.50,246.45 360.80,246.77 361.10,247.08 361.40,247.39 361.70,247.70 362.00,248.00 362.30,248.29"/>
<polyline fill="none" stroke="#0000ff" stroke-width="3.00" stroke-linejoin="round" stroke-linecap="round" points="362.30,248.29 362.60,248.58 362.90,248.87 363.20,249.16 363.50,249.44 363.80,249.72 364.10,249.99 364.40,250.26 364.70,250.53 365.00,250.80 365.30,251.06 365.60,251.32 365.90,251.58 366.20,251.83 366.50,252.08 366.80,252.33 367.10,252.57 367.40,252.82 367.70,253.06 368.00,253.30 368.30,253.54 368.58,253.77 368.87,254.00 369.15,254.22 369.44,254.44 369.73,254.67 370.03,254.89 370.34,255.12 370.66,255.36 371.00,255.60 371.36,255.85 371.72,256.10 372.10,256.35 372.48,256.61 372.88,256.88 373.28,257.14 373.69,257.40 374.12,257.67 374.55,257.93 375.00,258.20 375.46,258.47 375.94,258.74 376.43,259.02 376.93,259.29 377.44,259.57 377.95,259.84 378.47,260.12 378.98,260.38 379.50,260.65 380.00,260.90 380.50,261.15 381.00,261.39 381.50,261.63 382.00,261.86 382.50,262.09 383.00,262.32 383.50,262.54 384.00,262.77 384.50,262.98 385.00,263.20 385.50,263.41 386.00,263.63 386.50,263.83 387.00,264.04 387.50,264.24 388.00,264.44 388.50,264.64 389.00,264.83 389.50,265.02 390.00,265.20 390.50,265.38 391.00,265.55 391.50,265.72 392.00,265.89 392.50,266.05 393.00,266.21 393.50,266.36 394.00,266.51 394.50,266.66 395.00,266.80 395.48,266.93 395.92,267.06 396.34,267.17 396.76,267.28 397.19,267.39 397.64,267.50 398.13,267.62 398.68,267.73 399.30,267.86 400.00,268.00 400.80,268.15 401.68,268.32 402.63,268.49 403.64,268.67 404.69,268.86 405.76,269.04 406.84,269.22 407.92,269.39 408.98,269.55 410.00,269.70 411.00,269.84 412.00,269.96 413.00,270.08 414.00,270.19 415.00,270.30 416.00,270.40 417.00,270.50 418.00,270.60 419.00,270.70 420.00,270.80 421.00,270.90 422.00,270.99 423.00,271.08 424.00,271.17 425.00,271.26 426.00,271.35 427.00,271.44 428.00,271.52 429.00,271.61 430.00,271.70 430.98,271.79 431.92,271.88 432.84,271.96 433.76,272.05 434.69,272.13 435.64,272.22 436.63,272.31 437.68,272.40 438.80,272.50 440.00,272.60 441.30,272.71 442.68,272.82 444.13,272.94 445.64,273.07 447.19,273.19 448.76,273.32 450.34,273.45 451.92,273.57 453.48,273.69 455.00,273.80 456.50,273.91 458.00,274.01 459.50,274.11 461.00,274.21 462.50,274.31 464.00,274.41 465.50,274.51 467.00,274.60 468.50,274.70 470.00,274.80 471.50,274.90 473.00,275.00 474.50,275.10 476.00,275.20 477.50,275.30 479.00,275.40 480.50,275.50 482.00,275.60 483.50,275.70 485.00,275.80 486.48,275.90 487.92,276.00 489.34,276.10 490.76,276.20 492.19,276.29 493.64,276.39 495.13,276.49 496.68,276.59 498.30,276.70 500.00,276.80 501.78,276.91 503.62,277.01 505.51,277.12 507.45,277.23 509.44,277.34 511.47,277.45 513.55,277.56 515.66,277.67 517.82,277.79 520.00,277.90 522.35,278.02 524.93,278.15 527.66,278.29 530.46,278.43 533.25,278.57 535.94,278.70 538.44,278.83 540.67,278.94 542.55,279.03 544.00,279.10"/>
<polyline fill="none" stroke="#0000ff" stroke-width="1.0" stroke-linejoin="miter" points="325.0,281.6 325.2,281.6 325.4,281.6 325.6,281.6 325.8,281.6 326.1,281.6 326.3,281.6 326.5,281.6 326.7,281.6 326.9,281.6 327.1,281.6 327.3,281.6 327.5,281.6 327.7,281.6 328.0,281.6 328.2,281.6 328.4,281.6 328.7,281.6 328.9,281.6 329.1,281.6 329.3,281.6 329.5,281.6 329.7,281.6 329.9,281.6 330.1,281.6 330.3,281.6 330.5,281.6 330.7,281.6 330.9,281.6 331.1,281.6 331.3,281.6 331.6,281.6 331.8,281.6 332.0,281.6 332.3,281.6 332.5,281.6 332.7,281.6 332.9,281.6 333.1,281.6 333.3,281.6 333.6,281.6 333.8,281.6 334.0,281.6 334.3,281.5 334.5,281.5 334.8,281.5 335.0,281.5 335.3,281.5 335.5,281.4 335.7,281.4 335.9,281.4 336.2,281.3 336.5,281.3 336.6,281.2 336.7,281.1 336.8,281.0 336.9,280.8 337.0,280.7 337.2,280.5 337.4,280.3 337.6,280.0 337.7,279.8 337.9,279.5 338.1,279.2 338.3,278.9 338.4,278.5 338.6,278.2 338.7,278.0 338.7,277.8 338.8,277.6 338.9,277.4 339.0,277.2 339.1,277.0 339.1,276.8 339.2,276.6 339.3,276.4 339.4,276.1 339.4,275.9 339.5,275.7 339.6,275.5 339.6,275.2 339.7,275.0 339.8,274.7 339.9,274.5 340.0,274.2 340.0,273.9 340.1,273.6 340.2,273.4 340.2,273.2 340.3,273.0 340.4,272.8 340.4,272.6 340.5,272.4 340.6,272.2 340.6,271.9 340.7,271.7 340.8,271.5 340.9,271.2 341.0,271.0 341.0,270.8 341.1,270.6 341.1,270.4 341.2,270.2 341.3,270.0 341.3,269.8 341.4,269.6 341.5,269.4 341.5,269.1 341.6,268.9 341.7,268.7 341.7,268.5 341.8,268.3 341.9,268.1 341.9,267.9 342.0,267.6 342.1,267.4 342.1,267.2 342.2,267.0 342.3,266.8 342.3,266.5 342.4,266.3 342.5,266.1 342.5,265.9 342.6,265.7 342.6,265.5 342.7,265.2 342.8,265.0 342.8,264.8 342.9,264.6 342.9,264.4 342.5,264.1 343.3,264.1 343.3,263.8 343.1,263.6 342.8,263.3 343.7,263.3 343.8,263.1 343.4,262.7 343.4,262.5 343.1,262.2 342.8,261.9 343.4,261.8 343.8,261.7 343.0,261.3 344.2,261.3 343.4,260.9 343.4,260.7 343.2,260.4 344.7,260.5 344.4,260.2 344.6,260.1 344.3,259.8 343.4,259.3 343.9,259.2 344.2,259.1 343.7,258.7 345.1,258.8 344.2,258.4 343.9,258.1 345.0,258.2 344.0,257.7 345.3,257.8 344.6,257.4 344.8,257.2 344.5,256.9 344.8,256.7 344.4,256.4 344.2,256.1 345.6,256.1 344.6,255.7 345.6,255.7 344.7,255.2 346.0,255.3 345.9,255.1 345.7,254.8 345.8,254.6 345.6,254.4 345.9,254.2 345.0,253.7 345.6,253.6 346.2,253.5 345.4,252.9 346.5,253.0 346.6,252.7 345.9,252.2 345.9,252.0 346.1,251.8 346.1,251.5 347.1,251.5 346.3,251.0 345.8,250.5 346.0,250.3 347.0,250.3 347.5,250.2 346.8,249.7 346.9,249.4 347.1,249.2 347.5,249.0 346.8,248.5 347.4,248.5 347.4,248.2 347.6,247.9 347.0,247.5 347.1,247.2 347.5,247.1 348.4,247.1 347.6,246.6 348.1,246.5 347.4,245.9 346.9,245.5 346.8,245.2 349.3,245.9 349.3,245.6 348.1,244.9 349.1,245.1 349.2,244.9 350.0,245.0 350.3,244.9 348.7,243.9 350.5,244.5 350.6,244.3 349.5,243.6 350.5,243.8 349.4,243.0 349.2,242.7 348.9,242.3 350.9,243.1 349.1,241.4 349.0,240.9 351.2,242.2 351.3,242.0 350.7,241.1 351.7,241.9 350.2,239.6 350.8,240.0 351.1,240.0 351.5,240.3 351.4,239.4 351.6,239.0 352.1,239.8 352.6,241.7 352.7,241.9 352.8,241.1 353.0,240.2 353.3,239.5 353.0,241.9 353.6,240.5 353.5,241.2 354.6,239.1 354.6,239.8 353.8,241.8 354.0,241.8 354.0,242.1 354.7,241.5 355.3,241.1 355.1,241.7 354.8,242.6 356.2,241.4 355.9,242.2 356.8,241.8 355.9,243.3 357.9,241.6 356.6,243.4 356.1,244.2 358.4,242.1 357.2,243.6 357.3,243.9 356.9,244.6 357.7,244.1 358.6,243.4 358.4,243.9 357.3,245.4 357.6,245.4 359.6,243.7 359.8,243.8 360.0,243.9 360.3,243.9 359.4,245.1 360.3,244.5 358.7,246.4 359.4,246.0 360.8,244.9 360.0,246.1 360.6,245.7 360.4,246.3 361.2,245.8 361.5,245.8 361.6,246.0 361.3,246.6 360.6,247.6 361.1,247.4 362.5,246.3 361.0,248.0 360.8,248.6 361.2,248.5 361.3,248.7 363.3,247.0 362.4,248.2 363.5,247.4 362.0,249.2 363.5,247.9 362.4,249.4 363.6,248.4 362.7,249.6 363.8,248.8 364.6,248.3 363.9,249.3 364.2,249.2 363.0,250.9 364.6,249.5 364.2,250.1 364.3,250.4 363.5,251.5 365.6,249.5 364.6,250.9 365.0,250.8 364.8,251.7 364.6,252.5 366.3,251.1 365.8,252.4 366.4,252.1 366.7,252.5 368.0,251.4 366.7,253.6 366.7,254.3 368.3,252.9 368.7,253.1 367.5,255.1 369.7,252.9 370.0,253.1 370.3,253.3 369.1,255.5 369.5,255.6 370.4,255.0 370.4,255.7 371.8,254.2 370.7,256.0 371.3,255.6 371.3,255.9 371.8,255.7 371.9,255.8 372.4,255.5 373.0,255.1 372.4,256.3 373.0,255.9 372.3,257.3 372.3,257.8 372.7,257.6 373.4,257.0 374.0,256.5 373.9,257.1 373.9,257.5 373.9,258.1 373.5,259.1 375.3,256.7 374.8,258.0 375.0,258.2 374.9,259.0 374.8,259.6 375.2,259.4 375.7,259.1 375.8,259.6 376.1,259.5 376.1,260.2 376.6,259.9 376.9,260.0 377.8,258.8 377.0,261.0 378.1,259.5 378.0,260.3 378.0,261.1 378.0,261.6 378.2,261.9 380.0,259.0 379.8,260.1 380.0,260.2 380.2,260.6 380.8,259.9 380.4,261.3 381.4,260.0 381.3,260.8 380.6,262.9 381.1,262.4 381.8,261.6 382.6,260.7 381.6,263.4 382.2,262.7 383.2,261.3 383.2,261.8 383.1,262.9 383.2,263.1 384.1,261.9 383.4,264.2 384.5,262.3 384.8,262.2 384.3,264.2 385.5,262.1 385.0,263.9 385.9,262.5 385.6,263.8 386.3,262.9 386.4,263.4 385.9,265.2 386.8,263.8 387.1,263.8 387.1,264.5 387.8,263.6 388.2,263.3 388.1,264.1 388.5,263.8 388.9,263.7 388.2,266.2 389.6,263.3 388.9,265.9 389.0,266.4 389.5,265.8 390.6,263.7 390.2,265.3 391.0,263.9 390.6,265.8 390.8,266.2 391.5,264.8 392.0,264.1 391.7,265.9 392.4,264.6 392.5,265.4 392.5,265.9 392.3,267.4 393.1,265.8 393.6,265.1 393.2,267.3 393.4,267.5 394.0,266.6 394.7,265.1 394.8,265.6 394.8,266.4 395.0,267.0 395.5,266.0 395.2,267.9 395.4,268.1 395.5,268.5 395.8,268.4 396.8,265.6 396.5,267.5 397.1,265.9 396.6,268.7 397.0,268.2 397.2,268.3 397.9,266.5 398.2,266.1 397.9,268.7 398.3,268.0 398.6,268.1 398.9,267.7 398.9,268.8 399.4,267.3 399.7,267.1 399.9,267.5 400.1,267.3 400.1,268.5 400.1,269.4 400.9,266.7 401.1,266.7 401.0,268.2 401.1,268.8 401.7,267.2 401.8,267.5 402.2,266.9 402.4,266.9 402.4,268.4 402.5,269.1 402.7,269.0 403.2,267.4 403.5,267.3 403.2,270.1 403.6,268.8 403.9,268.4 403.9,269.4 404.1,269.5 404.5,268.9 404.9,267.4 404.7,270.0 405.3,268.0 405.6,267.4 405.6,268.5 405.7,269.1 405.9,269.5 406.4,268.0 406.3,269.8 406.6,269.2 407.0,268.1 406.9,270.4 407.1,270.3 407.3,270.7 407.6,270.0 408.1,268.4 408.0,270.4 408.1,270.8 408.5,269.6 408.6,270.9 408.7,271.1 409.2,269.2 409.2,271.1 409.4,271.1 409.7,270.7 410.2,268.1 410.3,269.2 410.3,270.1 410.6,270.1 410.7,270.7 410.9,270.3 411.3,268.7 411.2,271.3 411.6,270.0 411.6,271.2 412.1,269.0 412.0,271.7 412.4,270.2 412.5,271.0 412.7,270.9 412.9,271.4 413.3,269.6 413.6,268.7 413.6,269.8 413.9,269.1 414.0,270.3 414.1,271.3 414.5,269.8 414.7,269.0 415.0,268.7 415.0,270.0 415.2,270.6 415.6,268.7 415.5,270.9 415.9,269.4 416.1,269.1 416.1,271.9 416.4,270.5 416.5,271.8 416.8,270.5 417.1,269.2 417.3,269.6 417.4,270.3 417.6,271.0 417.7,271.5 417.9,271.5 418.1,271.1 418.5,269.8 418.6,270.4 418.8,270.3 419.0,270.7 419.3,269.9 419.4,270.9 419.6,270.6 420.0,269.2 419.9,271.9 420.2,271.1 420.3,271.9 420.5,271.7 420.7,271.7 420.8,272.6 421.2,270.5 421.4,270.6 421.8,269.3 421.7,271.5 422.0,271.3 422.2,271.3 422.2,272.7 422.7,270.0 422.9,270.1 422.9,271.9 423.1,272.2 423.4,271.1 423.7,269.6 423.8,270.7 423.9,272.3 424.2,271.2 424.4,271.1 424.6,270.9 424.8,271.7 425.0,271.6 425.1,271.9 425.3,272.5 425.5,272.2 425.8,270.9 426.1,270.5 426.1,272.3 426.3,272.4 426.5,272.9 426.9,270.4 426.9,272.6 427.1,272.8 427.5,270.0 427.7,270.8 427.8,272.0 428.1,270.3 428.1,272.7 428.5,270.8 428.5,272.2 428.9,270.9 429.1,270.7 429.3,270.6 429.4,271.6 429.5,272.4 429.9,270.7 429.9,272.3 430.3,271.2 430.4,272.2 430.8,271.3 431.1,270.8 431.3,270.6 431.6,270.3 431.6,272.5 431.9,271.6 432.3,270.6 432.3,273.2 432.6,272.5 433.0,270.3 433.0,272.7 433.3,272.3 433.5,271.8 433.8,272.0 433.8,273.6 434.3,271.7 434.4,272.6 434.6,272.6 435.0,271.7 435.2,271.7 435.3,273.1 435.6,272.7 435.9,272.1 436.1,272.3 436.5,271.3 436.5,273.3 437.0,270.7 437.0,272.8 437.3,272.2 437.6,271.4 437.7,272.7 437.9,272.7 438.2,271.0 438.4,272.4 438.7,271.3 438.7,273.5 439.0,271.9 439.2,272.0 439.5,271.6 439.7,271.0 439.9,271.5 440.1,271.4 440.2,273.0 440.3,273.8 440.7,271.7 441.0,271.4 441.1,272.8 441.4,271.4 441.6,272.4 441.7,273.6 442.1,271.8 442.2,273.5 442.4,272.9 442.8,271.4 443.0,272.0 443.1,273.2 443.4,271.5 443.6,271.9 443.7,273.2 443.8,274.0 444.1,273.0 444.3,273.5 444.7,271.3 444.8,272.3 445.0,272.4 445.1,274.4 445.5,272.6 445.6,274.0 446.0,271.5 446.1,273.1 446.2,274.4 446.4,274.1 446.7,273.4 447.1,272.1 447.1,274.6 447.5,271.8 447.5,274.8 447.8,274.2 448.0,274.0 448.3,273.4 448.6,272.2 448.8,272.8 448.9,273.9 449.2,273.9 449.5,273.0 449.6,274.4 450.0,271.9 450.2,272.7 450.5,272.1 450.6,272.9 450.7,274.5 451.0,274.4 451.3,272.3 451.5,272.9 451.8,272.2 451.9,274.1 452.2,273.4 452.4,272.7 452.6,273.2 452.7,274.9 453.1,273.4 453.2,274.3 453.4,274.1 453.7,273.6 453.9,273.9 454.2,273.3 454.4,272.7 454.6,273.7 454.8,273.1 455.0,273.2 455.3,272.8 455.3,275.2 455.7,273.6 455.9,272.8 456.2,272.3 456.4,272.9 456.4,275.2 456.8,273.4 456.9,274.5 457.2,273.0 457.3,274.5 457.6,273.8 457.7,274.8 458.0,274.1 458.2,273.6 458.5,273.3 458.6,274.4 458.8,275.2 459.0,274.7 459.3,274.0 459.5,273.5 459.6,275.5 459.9,275.3 460.2,273.0 460.3,274.8 460.5,275.1 460.7,274.8 460.9,275.8 461.1,275.5 461.5,273.4 461.5,275.9 461.9,273.7 462.1,273.9 462.2,275.9 462.6,273.2 462.7,274.0 462.9,274.8 463.2,273.6 463.4,273.6 463.5,275.4 463.8,274.8 463.9,275.2 464.2,275.4 464.3,275.7 464.6,275.8 464.8,275.6 465.0,276.1 465.3,274.5 465.5,275.2 465.7,274.6 465.8,276.1 466.1,275.1 466.4,274.3 466.5,275.1 466.8,273.9 467.1,273.3 467.2,274.2 467.5,273.4 467.8,273.0 467.9,273.3 468.1,274.5 468.2,275.6 468.6,273.2 468.7,275.2 469.0,273.4 469.1,274.8 469.4,274.1 469.6,274.6 469.7,275.5 470.0,274.5 470.2,274.4 470.4,275.6 470.7,273.5 470.9,274.3 471.0,275.6 471.2,276.0 471.4,276.5 471.8,274.1 471.9,275.4 472.2,274.3 472.3,275.6 472.5,276.1 472.9,273.7 473.0,274.5 473.1,276.5 473.5,274.5 473.6,275.5 473.8,276.1 474.1,274.3 474.2,276.0 474.6,273.4 474.8,274.6 475.0,274.0 475.2,274.6 475.4,274.2 475.7,273.6 475.7,276.2 476.1,274.1 476.2,275.5 476.4,275.4 476.6,276.4 476.8,276.4 477.0,275.7 477.4,274.2 477.4,276.2 477.8,273.9 477.8,276.8 478.2,274.7 478.4,274.5 478.6,274.4 478.8,275.0 478.9,276.4 479.1,276.6 479.4,276.3 479.6,276.2 479.9,274.6 480.1,274.9 480.3,274.8 480.5,275.3 480.6,276.8 480.8,277.2 481.2,274.1 481.3,277.1 481.5,277.0 481.8,275.5 482.0,276.3 482.1,276.6 482.5,274.6 482.6,276.0 482.7,277.3 483.0,277.0 483.2,277.1 483.6,274.3 483.7,276.4 483.9,275.7 484.1,277.1 484.4,274.6 484.6,275.9 484.9,274.5 484.9,276.8 485.2,276.6 485.5,274.2 485.7,275.2 485.9,274.6 486.0,276.3 486.2,276.3 486.6,274.4 486.6,277.4 486.8,277.5 487.1,275.7 487.3,276.2 487.5,275.5 487.7,276.3 487.9,275.7 488.1,275.8 488.3,276.9 488.6,275.0 488.8,275.4 488.9,277.0 489.2,275.1 489.4,274.6 489.4,277.5 489.8,275.0 490.0,275.8 490.2,275.5 490.4,275.4 490.6,275.7 490.8,276.3 491.1,274.9 491.2,276.3 491.5,274.7 491.7,274.8 491.8,275.3 492.0,275.4 492.2,275.8 492.4,275.6 492.5,277.5 492.8,276.9 493.0,276.3 493.2,277.3 493.4,277.0 493.7,275.8 493.8,276.8 494.0,277.3 494.3,276.6 494.4,277.3 494.7,276.9 494.8,277.9 495.2,275.7 495.3,277.1 495.5,278.1 495.8,276.6 495.9,277.9 496.3,275.2 496.4,277.3 496.7,275.8 496.8,277.5 497.1,276.4 497.3,276.8 497.5,275.8 497.7,275.8 497.8,277.9 498.1,277.2 498.3,277.1 498.6,275.4 498.8,276.0 498.8,278.3 499.2,275.7 499.4,276.9 499.5,277.4 499.8,276.8 500.0,277.0 500.1,278.0 500.4,277.6 500.7,276.2 500.9,276.7 501.1,276.7 501.3,277.4 501.5,277.3 501.8,276.3 502.0,277.4 502.2,276.8 502.5,275.7 502.6,276.4 502.8,276.6 503.0,276.2 503.2,277.4 503.3,278.3 503.6,278.1 503.8,277.4 504.0,278.0 504.2,277.0 504.4,277.3 504.6,278.1 504.9,275.9 505.1,276.7 505.3,276.8 505.5,276.7 505.7,276.9 506.0,276.0 506.1,277.6 506.3,278.4 506.6,276.5 506.8,276.4 507.0,276.8 507.2,278.0 507.5,276.5 507.6,277.9 507.9,276.4 508.1,277.5 508.3,277.9 508.5,277.7 508.8,276.2 508.9,278.5 509.2,278.2 509.4,277.3 509.6,278.3 509.8,277.6 510.1,276.5 510.3,277.1 510.4,278.2 510.7,277.3 510.9,276.2 511.1,276.6 511.3,276.6 511.5,277.7 511.7,277.8 511.9,277.3 512.1,277.2 512.2,278.7 512.5,277.1 512.7,278.0 513.0,276.8 513.1,277.6 513.4,276.7 513.6,276.6 513.8,277.1 514.0,276.6 514.2,277.3 514.4,278.0 514.6,277.7 514.8,278.4 515.0,277.6 515.3,276.6 515.4,278.3 515.7,277.4 515.8,278.3 516.0,278.9 516.3,277.8 516.6,277.1 516.8,277.4 517.0,277.7 517.2,277.3 517.4,276.7 517.6,277.5 517.8,278.2 518.0,278.6 518.2,278.5 518.4,278.8 518.6,278.6 518.9,277.6 519.1,278.2 519.4,276.7 519.5,278.6 519.8,278.4 520.0,277.3 520.2,277.8 520.5,277.3 520.6,278.7 520.9,277.8 521.0,278.7 521.2,279.1 521.5,278.7 521.7,277.7 521.9,277.6 522.1,279.2 522.3,279.1 522.6,277.2 522.8,277.7 523.0,278.8 523.2,278.7 523.5,277.5 523.6,277.9 523.8,279.3 524.1,277.0 524.3,277.5 524.5,278.6 524.7,279.2 524.9,279.3 525.1,278.1 525.3,278.9 525.5,279.4 525.8,277.8 526.0,277.5 526.2,277.6 526.4,279.0 526.7,277.3 526.8,278.4 527.0,279.4 527.3,277.5 527.4,278.6 527.7,278.4 527.8,279.5 528.1,278.3 528.3,278.3 528.4,279.4 528.6,279.0 528.9,277.4 529.0,279.1 529.3,278.1 529.4,279.6 529.6,279.6 529.9,278.4 530.1,278.2 530.3,277.7 530.5,277.8 530.7,277.7 530.9,277.6 531.1,279.1 531.4,277.3 531.5,278.7 531.7,278.7 531.9,279.1 532.2,278.7 532.3,279.6 532.6,278.0 532.9,277.5 533.0,278.8 533.3,278.0 533.4,279.8 533.6,279.7 533.8,279.1 534.0,279.5 534.3,278.0 534.5,278.6 534.7,278.3 534.9,278.2 535.1,278.3 535.3,278.6 535.5,279.1 535.8,277.5 535.9,278.8 536.2,277.7 536.3,279.9 536.6,278.9 536.8,279.0 537.0,278.3 537.2,279.3 537.4,279.3 537.6,279.8 537.8,279.0 538.1,278.2 538.2,279.1 538.5,277.7 538.6,279.5 538.9,278.3 539.0,279.4 539.3,277.9 539.4,279.1 539.7,278.0 539.9,277.7 540.1,278.3 540.2,279.8 540.5,278.6 540.7,279.0 540.8,279.7 541.0,280.2 541.3,278.3 541.5,279.5 541.7,279.7 541.9,279.8 542.2,278.6 542.3,279.0 542.5,279.8 542.8,278.4 543.0,279.0 543.2,279.4 543.3,280.0 543.6,278.4 543.8,279.5 544.0,278.4"/>
<polyline fill="none" stroke="#00a000" stroke-width="1.90" stroke-linejoin="round" stroke-linecap="round" points="331.00,281.50 331.07,280.58 331.17,279.40 331.28,278.00 331.40,276.44 331.54,274.75 331.68,272.98 331.82,271.17 331.95,269.38 332.08,267.64 332.20,266.00 332.31,264.48 332.41,263.06 332.51,261.68 332.60,260.31 332.70,258.91 332.80,257.43 332.89,255.84 332.99,254.10 333.09,252.17 333.20,250.00 333.31,247.51 333.43,244.69 333.55,241.62 333.67,238.38 333.79,235.06 333.91,231.74 334.03,228.49 334.16,225.39 334.28,222.54 334.40,220.00 334.52,217.74 334.64,215.65 334.76,213.71 334.88,211.91 334.99,210.22 335.11,208.64 335.23,207.15 335.35,205.72 335.48,204.34 335.60,203.00 335.73,201.69 335.86,200.41 335.99,199.19 336.13,198.04 336.27,196.98 336.40,196.01 336.53,195.15 336.66,194.42 336.78,193.83 336.90,193.40 337.01,193.16 337.11,193.12 337.21,193.24 337.30,193.49 337.40,193.85 337.49,194.27 337.58,194.73 337.67,195.20 337.76,195.63 337.86,196.00 337.96,196.34 338.06,196.69 338.17,197.07 338.27,197.45 338.38,197.85 338.48,198.26 338.59,198.68 338.69,199.11 338.80,199.55 338.91,200.00 339.02,200.46 339.13,200.94 339.24,201.43 339.36,201.93 339.47,202.44 339.58,202.95 339.70,203.47 339.81,203.98 339.91,204.50 340.02,205.00 340.12,205.50 340.22,206.00 340.32,206.50 340.42,207.00 340.52,207.50 340.61,208.00 340.71,208.50 340.80,209.00 340.90,209.50 340.99,210.00 341.08,210.50 341.17,211.00 341.26,211.50 341.35,212.00"/>
<polyline fill="none" stroke="#00a000" stroke-width="2.00" stroke-linejoin="round" stroke-linecap="round" points="341.35,212.00 341.44,212.50 341.53,213.00 341.62,213.50 341.71,214.00 341.80,214.50 341.89,215.00 341.98,215.50 342.07,216.00 342.17,216.50 342.26,217.00 342.35,217.50 342.44,218.00 342.54,218.50 342.63,219.00 342.73,219.50 342.83,220.00 342.93,220.50 343.03,221.00 343.13,221.50 343.23,222.00 343.34,222.50 343.44,223.00 343.55,223.50 343.66,224.00 343.77,224.50 343.88,225.00 344.00,225.50 344.11,226.00"/>
<polyline fill="none" stroke="#00a000" stroke-width="2.10" stroke-linejoin="round" stroke-linecap="round" points="344.11,226.00 344.23,226.50 344.35,227.00 344.47,227.50 344.60,228.00 344.73,228.50 344.86,229.00 344.99,229.50 345.13,230.00 345.27,230.50 345.41,231.00 345.56,231.50 345.71,232.00 345.86,232.50 346.01,233.00 346.17,233.50 346.33,234.00 346.50,234.50 346.67,235.00"/>
<polyline fill="none" stroke="#00a000" stroke-width="2.20" stroke-linejoin="round" stroke-linecap="round" points="346.67,235.00 346.84,235.50 347.02,236.00 347.20,236.50 347.39,237.00 347.57,237.50 347.77,238.00 347.96,238.50 348.16,239.00 348.37,239.50 348.58,240.00 348.80,240.50 349.02,241.00 349.24,241.50 349.47,242.00"/>
<polyline fill="none" stroke="#00a000" stroke-width="2.30" stroke-linejoin="round" stroke-linecap="round" points="349.47,242.00 349.70,242.50 349.94,243.00 350.18,243.50 350.43,244.00 350.69,244.50 350.95,245.00 351.22,245.50 351.49,246.00 351.76,246.50 352.04,247.00"/>
<polyline fill="none" stroke="#00a000" stroke-width="2.40" stroke-linejoin="round" stroke-linecap="round" points="352.04,247.00 352.33,247.50 352.62,248.00 352.92,248.50 353.23,249.00 353.54,249.50 353.86,250.00 354.19,250.51 354.54,251.03 354.90,251.55"/>
<polyline fill="none" stroke="#00a000" stroke-width="2.50" stroke-linejoin="round" stroke-linecap="round" points="354.90,251.55 355.27,252.08 355.64,252.60 356.01,253.12 356.38,253.62 356.74,254.10 357.08,254.56 357.41,255.00 357.72,255.41 358.02,255.79 358.30,256.15 358.57,256.49 358.84,256.82 359.11,257.14 359.38,257.45 359.66,257.76 359.94,258.08 360.23,258.40 360.54,258.73 360.85,259.06 361.17,259.39 361.50,259.71 361.83,260.04 362.16,260.35 362.48,260.66 362.80,260.96 363.10,261.24 363.40,261.50 363.68,261.74 363.93,261.96 364.18,262.17 364.41,262.36 364.65,262.54 364.89,262.72 365.14,262.91 365.40,263.09 365.69,263.29 366.00,263.50 366.33,263.73 366.68,263.96 367.03,264.21 367.40,264.46 367.79,264.71 368.19,264.96 368.61,265.20 369.05,265.45 369.51,265.68 370.00,265.90 370.53,266.11 371.10,266.32 371.72,266.53 372.35,266.72 373.00,266.92 373.65,267.11 374.28,267.29 374.90,267.47 375.47,267.64 376.00,267.80 376.45,267.95 376.83,268.08 377.16,268.20 377.46,268.31 377.75,268.42 378.06,268.53 378.42,268.65 378.85,268.78 379.37,268.93 380.00,269.10 380.76,269.30 381.62,269.52 382.56,269.76 383.57,270.01 384.62,270.27 385.71,270.53 386.81,270.79 387.90,271.04 388.97,271.28 390.00,271.50 391.00,271.71 392.00,271.91 393.00,272.10 394.00,272.29 395.00,272.47 396.00,272.64 397.00,272.82 398.00,272.98 399.00,273.14 400.00,273.30 401.00,273.45 402.00,273.60 403.00,273.75 404.00,273.89 405.00,274.03 406.00,274.15 407.00,274.28 408.00,274.39 409.00,274.50 410.00,274.60 410.95,274.69 411.84,274.76 412.69,274.82 413.52,274.87 414.38,274.91 415.28,274.96 416.26,275.01 417.36,275.06 418.59,275.12 420.00,275.20 421.55,275.29 423.20,275.39 424.95,275.50 426.80,275.61 428.75,275.72 430.80,275.84 432.95,275.96 435.20,276.08 437.55,276.19 440.00,276.30 442.60,276.40 445.36,276.51 448.26,276.61 451.28,276.72 454.38,276.82 457.52,276.92 460.69,277.02 463.84,277.11 466.96,277.21 470.00,277.30 472.94,277.39 475.78,277.48 478.56,277.56 481.33,277.64 484.12,277.73 486.99,277.80 489.97,277.88 493.10,277.96 496.43,278.03 500.00,278.10 504.03,278.17 508.61,278.24 513.56,278.31 518.70,278.38 523.88,278.45 528.90,278.51 533.59,278.57 537.79,278.62 541.32,278.67 544.00,278.70"/>
<polyline fill="none" stroke="#00a000" stroke-width="0.9" stroke-linejoin="miter" points="331.0,281.5 331.0,281.3 331.0,281.0 331.1,280.8 331.1,280.6 331.1,280.3 331.1,280.1 331.1,279.9 331.1,279.6 331.2,279.4 331.2,279.2 331.2,278.9 331.2,278.7 331.2,278.5 331.3,278.2 331.3,278.0 331.3,277.8 331.3,277.6 331.3,277.3 331.3,277.1 331.4,276.9 331.4,276.7 331.4,276.4 331.4,276.2 331.4,276.0 331.5,275.8 331.5,275.6 331.5,275.4 331.5,275.2 331.5,275.0 331.5,274.8 331.6,274.5 331.6,274.3 331.6,274.1 331.6,273.9 331.6,273.6 331.6,273.4 331.7,273.2 331.7,273.0 331.7,272.8 331.7,272.6 331.7,272.4 331.7,272.2 331.8,272.0 331.8,271.8 331.8,271.6 331.8,271.4 331.8,271.2 331.8,271.0 331.8,270.8 331.9,270.6 331.9,270.4 331.9,270.2 331.9,270.0 331.9,269.8 331.9,269.6 332.0,269.4 332.0,269.2 332.0,268.9 332.0,268.7 332.0,268.5 332.0,268.3 332.1,268.1 332.1,267.9 332.1,267.6 332.1,267.4 332.1,267.2 332.1,267.0 332.1,266.8 332.2,266.6 332.2,266.4 332.2,266.2 332.2,266.0 332.2,265.8 332.2,265.6 332.2,265.3 332.3,265.1 332.3,264.9 332.3,264.7 332.3,264.5 332.3,264.3 332.3,264.1 332.4,263.9 332.4,263.7 332.4,263.5 332.4,263.3 332.4,263.1 332.4,262.8 332.4,262.6 332.5,262.4 332.5,262.1 332.5,261.9 332.5,261.7 332.5,261.4 332.5,261.2 332.6,261.0 332.6,260.8 332.6,260.5 332.6,260.3 332.6,260.1 332.6,259.9 332.6,259.7 332.7,259.5 332.7,259.3 332.7,259.1 332.7,258.9 332.7,258.7 332.7,258.5 332.7,258.3 332.8,258.1 332.8,257.9 332.8,257.6 332.8,257.4 332.8,257.2 332.8,257.0 332.8,256.8 332.9,256.5 332.9,256.3 332.9,256.1 332.9,255.8 332.9,255.6 332.9,255.4 332.9,255.2 332.9,255.0 333.0,254.8 333.0,254.5 333.0,254.3 333.0,254.1 333.0,253.9 333.0,253.7 333.0,253.5 333.0,253.2 333.0,253.0 333.1,252.8 333.1,252.6 333.1,252.4 333.1,252.2 333.1,252.0 333.1,251.7 333.1,251.5 333.1,251.3 333.1,251.1 333.2,250.9 333.2,250.7 333.2,250.4 333.2,250.2 333.2,250.0 333.2,249.8 333.2,249.6 333.2,249.4 333.2,249.2 333.2,249.0 333.3,248.8 333.3,248.5 333.3,248.3 333.3,248.1 333.3,247.9 333.3,247.7 333.3,247.5 333.3,247.3 333.3,247.1 333.3,246.9 333.3,246.7 333.4,246.5 333.4,246.3 333.4,246.1 333.4,245.9 333.4,245.7 333.4,245.5 333.4,245.3 333.4,245.1 333.4,244.9 333.4,244.7 333.4,244.5 333.4,244.3 333.5,244.1 333.5,243.9 333.5,243.7 333.5,243.5 333.5,243.3 333.5,243.1 333.5,242.8 333.5,242.6 333.5,242.4 333.5,242.2 333.5,242.0 333.5,241.8 333.5,241.6 333.6,241.4 333.6,241.2 333.6,241.0 333.6,240.8 333.6,240.6 333.6,240.4 333.6,240.2 333.6,240.0 333.6,239.8 333.6,239.6 333.6,239.4 333.6,239.2 333.6,239.0 333.7,238.8 333.7,238.6 333.7,238.4 333.7,238.2 333.7,238.0 333.7,237.8 333.7,237.6 333.7,237.3 333.7,237.1 333.7,236.9 333.7,236.7 333.7,236.5 333.7,236.3 333.7,236.1 333.8,235.9 333.8,235.7 333.8,235.5 333.8,235.3 333.8,235.1 333.8,234.9 333.8,234.6 333.8,234.4 333.8,234.2 333.8,234.0 333.8,233.8 333.8,233.6 333.8,233.4 333.9,233.2 333.9,233.0 333.9,232.8 333.9,232.6 333.9,232.4 333.9,232.2 333.9,231.9 333.9,231.7 333.9,231.5 333.9,231.3 333.9,231.1 333.9,230.9 333.9,230.7 334.0,230.5 334.0,230.3 334.0,230.1 334.0,229.9 334.0,229.7 334.0,229.5 334.0,229.3 334.0,229.1 334.0,228.9 334.0,228.7 334.0,228.5 334.0,228.3 334.1,228.1 334.1,227.9 334.1,227.7 334.1,227.5 334.1,227.2 334.1,227.0 334.1,226.8 334.1,226.6 334.1,226.4 334.1,226.2 334.1,226.0 334.1,225.8 334.1,225.6 334.2,225.4 334.2,225.2 334.2,225.0 334.2,224.8 334.2,224.6 334.2,224.4 334.2,224.2 334.2,224.0 334.2,223.8 334.2,223.6 334.2,223.4 334.3,223.1 334.3,222.9 334.3,222.7 334.3,222.5 334.3,222.3 334.3,222.1 334.3,221.9 334.3,221.7 334.3,221.5 334.3,221.3 334.3,221.1 334.4,220.8 334.4,220.6 334.4,220.4 334.4,220.2 334.4,220.0 334.4,219.8 334.4,219.6 334.4,219.4 334.4,219.2 334.5,219.0 334.5,218.8 334.5,218.6 334.5,218.4 334.5,218.2 334.5,217.9 334.5,217.7 334.5,217.5 334.5,217.3 334.6,217.1 334.6,216.9 334.6,216.7 334.6,216.5 334.6,216.3 334.6,216.1 334.6,215.9 334.6,215.6 334.7,215.4 334.7,215.2 334.7,215.0 334.7,214.8 334.7,214.6 334.7,214.4 334.7,214.1 334.7,213.9 334.8,213.7 334.8,213.5 334.8,213.3 334.8,213.1 334.8,212.9 334.8,212.7 334.8,212.5 334.8,212.3 334.9,212.1 334.9,211.9 334.9,211.7 334.9,211.5 334.9,211.3 334.9,211.1 334.9,210.9 335.0,210.6 335.0,210.4 335.0,210.2 335.0,210.0 335.0,209.8 335.0,209.5 335.1,209.3 335.1,209.1 335.1,208.9 335.1,208.6 335.1,208.4 335.1,208.2 335.2,208.0 335.2,207.8 335.2,207.6 335.2,207.4 335.2,207.1 335.2,206.9 335.3,206.7 335.3,206.5 335.3,206.3 335.3,206.1 335.3,205.9 335.4,205.7 335.4,205.5 335.4,205.3 335.4,205.0 335.4,204.8 335.5,204.6 335.5,204.3 335.5,204.1 335.5,203.9 335.5,203.7 335.6,203.4 335.6,203.2 335.6,203.0 335.6,202.8 335.6,202.6 335.7,202.3 335.7,202.1 335.7,201.9 335.7,201.7 335.7,201.5 335.8,201.3 335.8,201.0 335.8,200.8 335.8,200.6 335.9,200.4 335.9,200.2 335.9,200.0 335.9,199.8 335.9,199.6 336.0,199.4 336.0,199.2 336.0,199.0 336.0,198.7 336.1,198.5 336.1,198.3 336.1,198.0 336.2,197.8 336.2,197.6 336.2,197.4 336.2,197.2 336.3,197.0 336.3,196.7 336.3,196.5 336.4,196.2 336.4,196.0 336.4,195.8 336.5,195.6 336.5,195.4 336.5,195.2 336.6,194.9 336.6,194.7 336.7,194.4 336.7,194.2 336.7,194.0 336.8,193.8 336.8,193.6 336.9,193.4 337.0,193.2 337.1,193.1 337.2,193.2 337.3,193.5 337.4,193.9 337.4,194.1 337.5,194.3 337.5,194.5 337.6,194.7 337.6,195.0 337.7,195.2 337.7,195.4 337.8,195.6 337.9,196.0 338.0,196.3 338.1,196.7 338.2,197.1 338.3,197.5 338.3,197.7 338.4,197.8 338.4,198.1 338.5,198.3 338.5,198.5 338.6,198.7 338.6,198.9 338.7,199.1 338.7,199.3 338.8,199.6 338.9,199.8 338.9,200.0 339.0,200.2 338.6,200.6 339.4,200.6 339.6,200.8 338.7,201.3 339.6,201.4 339.7,201.6 339.2,202.0 339.6,202.1 339.1,202.5 339.8,202.6 339.1,203.1 339.8,203.2 339.6,203.5 339.3,203.8 339.6,204.0 339.4,204.3 339.7,204.5 340.4,204.7 339.6,205.1 340.0,205.3 340.3,205.5 340.5,205.7 339.9,206.1 340.2,206.3 339.9,206.6 340.1,206.8 340.0,207.1 340.4,207.3 340.3,207.5 340.5,207.8 340.9,208.0 340.2,208.3 340.9,208.5 340.5,208.8 340.4,209.1 340.7,209.3 341.2,209.4 340.6,209.8 340.8,210.0 341.3,210.2 341.5,210.4 341.1,210.8 341.6,210.9 340.8,211.3 341.3,211.5 341.3,211.8 341.4,212.0 341.2,212.3 341.0,212.6 341.7,212.7 341.7,213.0 341.5,213.3 341.8,213.5 341.6,213.8 341.7,214.0 341.8,214.2 341.6,214.5 341.8,214.8 342.3,214.9 341.4,215.3 342.1,215.5 342.1,215.7 342.2,216.0 341.7,216.3 341.7,216.6 342.2,216.8 342.4,217.0 342.7,217.2 342.0,217.6 342.7,217.7 342.4,218.0 342.6,218.2 342.7,218.5 342.7,218.7 342.9,218.9 343.1,219.2 342.7,219.5 342.5,219.8 342.7,220.0 343.2,220.2 342.7,220.5 343.4,220.7 343.1,221.0 342.8,221.3 342.7,221.6 343.2,221.7 342.9,222.1 343.3,222.2 343.3,222.5 343.3,222.8 343.0,223.1 343.3,223.3 343.6,223.5 343.4,223.8 343.5,224.0 343.9,224.2 343.5,224.6 343.5,224.8 343.8,225.0 343.5,225.3 344.5,225.4 344.1,225.8 344.0,226.0 344.3,226.2 344.6,226.4 344.1,226.8 344.4,227.0 344.6,227.2 344.9,227.4 344.1,227.9 344.7,228.0 345.0,228.2 345.0,228.4 345.0,228.7 344.5,229.1 345.2,229.2 345.2,229.4 345.4,229.6 345.2,230.0 345.5,230.2 345.4,230.5 345.1,230.8 345.0,231.1 345.2,231.3 346.0,231.4 345.8,231.7 345.4,232.1 346.2,232.1 346.1,232.4 345.9,232.7 346.1,233.0 345.9,233.3 346.0,233.6 346.3,233.7 346.6,233.9 346.7,234.2 346.7,234.4 347.0,234.6 346.5,235.1 347.1,235.1 346.5,235.6 346.8,235.8 348.0,235.6 347.1,236.2 347.0,236.6 348.3,236.4 347.4,237.0 348.5,236.9 347.0,237.7 348.8,237.3 347.5,238.1 346.8,238.7 347.2,238.8 348.7,238.5 348.1,239.0 349.1,238.9 348.7,239.4 347.7,240.1 347.9,240.3 349.8,239.8 349.1,240.4 348.6,240.9 349.7,240.7 348.5,241.5 348.4,241.9 349.2,241.8 349.8,241.9 348.8,242.6 349.7,242.5 350.5,242.4 350.4,242.8 350.8,242.9 349.5,243.9 350.3,243.8 350.0,244.2 349.9,244.6 349.7,245.0 351.5,244.4 351.2,244.9 350.3,245.7 350.7,245.8 351.6,245.6 351.2,246.2 352.3,245.9 352.5,246.1 352.8,246.2 352.3,246.9 352.7,246.9 352.3,247.5 351.5,248.3 353.3,247.6 352.7,248.3 352.2,249.0 352.9,248.9 353.2,249.0 352.8,249.6 354.5,248.9 352.8,250.3 353.5,250.2 353.4,250.6 353.4,250.8 355.0,250.0 355.2,250.1 355.1,250.4 354.5,251.0 353.8,251.8 354.0,251.9 355.1,251.4 354.8,251.9 354.7,252.2 355.6,251.8 354.5,252.9 354.7,253.0 355.2,252.9 355.0,253.3 355.3,253.4 355.7,253.3 356.5,253.0 356.7,253.1 356.9,253.2 357.4,253.1 355.8,254.5 357.1,253.8 357.8,253.6 357.4,254.3 358.0,254.2 357.5,254.9 357.9,255.0 358.3,254.9 357.9,255.6 358.2,255.7 358.4,255.8 357.7,256.6 358.8,256.0 358.5,256.6 358.0,257.2 358.0,257.5 359.2,256.8 360.0,256.4 358.4,258.0 359.4,257.5 360.0,257.2 360.3,257.2 360.3,257.5 360.3,257.8 360.7,257.7 361.0,257.7 359.5,259.4 360.0,259.3 361.4,258.3 360.9,259.0 360.5,259.7 361.2,259.4 362.1,258.8 361.8,259.4 361.9,259.7 361.1,260.7 361.9,260.3 362.2,260.3 362.1,260.7 363.2,259.9 362.3,261.1 362.3,261.5 362.7,261.4 363.3,261.0 363.7,261.1 364.4,260.9 364.6,261.2 364.7,261.5 364.5,262.3 364.2,263.1 365.3,262.2 365.2,262.9 365.2,263.4 365.5,263.5 366.7,262.6 365.6,264.4 366.2,263.9 366.8,263.5 367.0,263.4 366.6,264.5 366.5,265.1 367.4,264.0 367.5,264.3 367.5,264.7 368.2,264.0 368.1,264.6 367.7,265.8 368.3,265.2 368.2,265.9 369.1,264.8 368.6,266.2 369.0,266.2 369.8,265.1 369.7,265.9 369.8,266.3 370.2,266.2 370.4,266.3 370.9,265.6 370.9,266.4 371.2,266.0 371.1,267.1 371.6,266.2 371.4,267.6 371.9,266.8 372.3,266.0 372.4,266.5 372.8,265.9 372.6,267.4 373.3,265.9 373.1,267.2 373.6,266.6 373.5,267.7 374.1,266.3 374.0,267.6 374.1,267.8 374.7,266.7 374.9,266.6 375.0,267.2 375.0,267.9 375.4,267.0 375.8,266.5 375.8,267.6 375.8,268.5 376.5,267.1 376.1,269.0 376.6,268.0 377.1,267.3 377.5,267.3 377.6,268.0 377.8,268.4 378.3,267.8 378.7,267.7 378.6,268.7 379.0,268.2 379.1,268.7 379.4,268.8 379.5,269.4 379.7,269.2 380.2,268.5 380.4,268.4 380.3,270.1 381.0,268.3 381.2,268.5 381.4,268.4 381.2,270.2 381.6,269.6 381.6,270.6 382.0,269.9 382.4,269.3 382.6,269.6 382.6,270.3 383.1,269.2 383.0,270.6 383.4,269.7 383.8,268.9 383.9,269.7 384.0,270.3 384.4,269.3 384.2,271.2 384.4,271.3 384.8,270.3 384.8,271.3 385.2,270.9 385.5,270.6 385.9,269.7 385.7,271.6 385.9,271.6 386.4,270.6 386.7,270.5 387.0,269.8 387.0,271.1 387.1,271.7 387.5,270.7 387.8,270.5 387.8,271.3 388.0,271.8 388.5,270.4 388.7,270.7 388.7,271.6 389.2,270.2 389.0,272.1 389.5,270.9 389.4,272.2 389.8,271.3 390.2,270.7 390.4,270.4 390.6,270.7 390.7,271.1 390.7,272.3 390.9,272.4 391.1,272.1 391.5,271.3 391.5,272.2 391.7,272.4 392.1,271.6 392.4,271.0 392.4,271.9 392.7,271.4 392.9,271.3 393.0,271.8 393.4,271.1 393.2,273.1 393.7,271.7 393.6,273.2 393.9,272.8 394.4,271.2 394.2,273.3 394.5,273.1 394.8,272.5 394.8,273.4 395.2,272.5 395.6,271.4 395.7,271.7 395.9,272.2 395.9,273.5 396.1,273.5 396.6,271.8 396.7,272.4 397.0,271.9 397.1,272.2 397.3,272.5 397.4,272.7 397.7,272.1 397.7,273.3 398.1,272.4 398.0,273.9 398.4,273.0 398.6,272.9 398.7,273.7 399.1,272.8 399.3,272.6 399.5,272.3 399.7,272.8 399.9,272.6 399.9,273.9 400.3,273.0 400.3,273.9 400.7,272.9 401.0,272.4 401.1,273.0 401.2,273.2 401.3,274.5 401.7,272.8 401.9,272.9 402.1,272.8 402.3,273.0 402.2,274.8 402.5,274.7 402.9,273.1 403.2,272.7 403.2,273.7 403.4,274.0 403.7,272.9 403.8,273.7 403.9,274.5 404.4,272.7 404.3,274.5 404.5,274.4 404.7,274.7 405.0,274.0 405.2,274.0 405.4,274.1 405.7,273.2 405.8,274.2 406.1,273.5 406.3,273.8 406.5,273.1 406.7,273.4 406.9,273.2 407.0,274.4 407.3,273.7 407.4,274.5 407.6,274.4 407.9,273.7 408.1,273.5 408.2,274.6 408.4,274.9 408.6,274.9 408.8,274.5 409.0,274.7 409.3,273.4 409.4,274.1 409.5,275.3 409.8,274.3 410.1,273.7 410.3,274.4 410.4,275.4 410.8,273.7 411.0,273.8 411.2,274.7 411.3,275.6 411.6,274.5 411.9,274.2 412.0,275.4 412.3,273.8 412.5,274.3 412.7,275.1 412.8,275.7 413.0,275.7 413.3,274.4 413.6,274.3 413.8,274.6 414.0,274.0 414.2,274.4 414.3,275.6 414.5,276.1 414.9,274.4 415.1,273.9 415.3,275.5 415.5,276.1 415.7,275.7 416.0,274.8 416.2,275.6 416.5,275.6 416.7,275.6 416.9,275.0 417.1,276.2 417.3,275.7 417.6,274.4 417.8,274.9 418.0,274.1 418.2,274.8 418.3,275.9 418.6,275.1 418.8,275.2 419.0,275.8 419.3,274.2 419.4,274.8 419.6,275.1 419.8,275.2 420.0,275.6 420.2,276.3 420.4,275.9 420.7,275.3 420.9,275.7 421.1,275.4 421.3,276.4 421.5,275.5 421.7,275.5 422.0,275.1 422.2,275.1 422.3,276.0 422.6,275.0 422.7,276.3 423.0,275.9 423.1,276.5 423.4,275.9 423.6,275.6 423.9,275.1 424.1,274.3 424.3,275.8 424.5,276.1 424.7,276.0 424.9,276.1 425.2,274.4 425.3,276.0 425.6,275.0 425.8,275.3 425.9,276.4 426.2,275.3 426.4,275.5 426.7,274.5 426.8,274.8 427.1,274.9 427.3,275.0 427.4,275.7 427.7,274.6 427.9,274.7 428.2,274.7 428.3,276.3 428.5,276.8 428.7,276.3 429.0,275.8 429.2,274.9 429.3,276.4 429.6,274.9 429.8,274.8 430.0,275.8 430.1,276.7 430.4,275.4 430.5,276.7 430.8,275.4 431.0,277.0 431.2,276.4 431.4,276.8 431.6,277.1 431.8,276.7 432.1,275.2 432.3,276.0 432.5,276.0 432.7,276.5 433.0,275.3 433.1,276.2 433.4,275.5 433.6,275.2 433.8,275.9 433.9,276.7 434.2,276.2 434.4,275.7 434.6,275.4 434.8,275.7 435.0,275.8 435.2,275.5 435.4,275.6 435.7,275.4 435.9,275.6 436.0,276.5 436.3,276.4 436.5,276.4 436.6,277.2 436.9,276.6 437.2,275.3 437.3,276.0 437.5,276.2 437.7,276.8 438.0,276.3 438.2,275.2 438.4,276.2 438.6,276.6 438.7,276.9 439.0,276.1 439.2,275.6 439.4,275.2 439.6,276.3 439.8,276.9 440.0,275.4 440.2,276.4 440.4,276.5 440.6,276.5 440.9,275.7 441.1,275.4 441.3,275.2 441.5,275.9 441.7,277.3 442.0,276.2 442.1,277.6 442.3,277.2 442.6,276.6 442.8,276.3 443.0,276.6 443.2,277.2 443.5,276.0 443.7,275.6 443.8,277.4 444.1,276.8 444.3,276.2 444.5,276.2 444.8,275.5 444.9,276.7 445.1,277.2 445.4,276.5 445.6,277.0 445.8,277.1 446.0,276.1 446.2,276.9 446.4,277.7 446.6,277.1 446.8,275.8 447.0,277.0 447.2,276.9 447.4,277.2 447.6,277.1 447.8,277.6 448.0,277.7 448.3,275.9 448.5,276.6 448.7,275.5 448.8,277.8 449.1,275.7 449.3,276.5 449.5,276.9 449.7,276.5 449.9,275.9 450.1,276.7 450.3,276.0 450.5,276.7 450.7,277.2 450.9,276.2 451.1,276.6 451.3,277.0 451.5,276.8 451.7,277.5 451.9,277.7 452.1,277.9 452.3,275.9 452.5,276.7 452.8,275.8 452.9,277.2 453.1,276.5 453.3,277.6 453.6,276.8 453.7,277.5 454.0,275.7 454.2,277.1 454.4,276.6 454.6,277.6 454.8,275.9 455.0,275.9 455.2,277.3 455.4,276.4 455.6,276.7 455.9,276.6 456.0,278.0 456.3,277.2 456.4,277.7 456.7,277.7 456.9,277.8 457.1,276.8 457.3,276.4 457.5,277.0 457.7,277.9 457.9,277.9 458.2,276.9 458.3,277.9 458.6,277.6 458.8,275.9 459.0,277.3 459.2,277.7 459.5,275.9 459.6,276.7 459.8,277.3 460.1,277.0 460.3,277.1 460.5,276.0 460.7,276.4 460.9,277.9 461.1,276.7 461.3,277.0 461.5,277.3 461.8,276.5 462.0,276.9 462.2,277.1 462.3,278.0 462.6,277.9 462.8,276.3 463.0,277.1 463.2,277.7 463.4,278.1 463.6,277.2 463.8,277.4 464.0,277.5 464.2,277.5 464.4,278.1 464.6,278.3 464.8,278.3 465.1,276.3 465.3,277.7 465.5,276.9 465.7,276.6 465.9,276.2 466.1,278.2 466.3,278.1 466.5,277.3 466.7,277.2 467.0,276.5 467.1,278.2 467.3,277.8 467.6,276.4 467.8,277.4 467.9,278.4 468.2,276.7 468.4,276.9 468.6,276.9 468.8,277.0 469.0,276.4 469.2,277.6 469.4,276.7 469.6,277.7 469.8,277.2 470.0,278.1 470.2,277.9 470.4,278.2 470.7,276.5 470.8,278.0 471.0,278.0 471.3,276.8 471.5,276.1 471.7,276.4 471.9,278.0 472.1,278.5 472.3,276.3 472.5,276.8 472.7,277.1 473.0,276.4 473.1,277.7 473.3,278.3 473.5,278.2 473.8,276.6 473.9,278.4 474.1,278.1 474.4,276.6 474.5,278.3 474.7,278.5 474.9,278.4 475.1,278.1 475.3,278.2 475.6,277.6 475.8,276.3 476.0,277.9 476.2,277.5 476.4,276.7 476.7,276.6 476.8,278.4 477.0,278.5 477.3,276.4 477.5,276.4 477.7,278.0 477.9,277.0 478.1,278.4 478.3,277.5 478.5,278.1 478.8,276.5 479.0,278.2 479.2,276.9 479.4,277.4 479.6,277.6 479.8,277.2 480.1,277.0 480.3,277.5 480.5,276.5 480.7,276.8 480.9,276.7 481.1,278.5 481.3,277.2 481.5,278.8 481.7,278.6 482.0,276.9 482.2,278.5 482.4,278.8 482.6,277.5 482.8,277.6 483.0,278.1 483.3,277.7 483.5,277.1 483.7,278.3 483.9,277.0 484.1,277.4 484.4,276.6 484.5,277.3 484.7,278.5 485.0,276.9 485.2,277.0 485.4,277.5 485.6,277.3 485.8,276.6 486.0,276.7 486.2,277.1 486.4,278.5 486.6,278.5 486.8,278.5 487.0,278.3 487.2,279.0 487.4,277.2 487.6,278.3 487.8,277.7 488.0,278.9 488.3,277.7 488.5,278.4 488.7,278.5 488.9,279.0 489.1,278.5 489.3,277.5 489.5,278.2 489.7,278.6 489.9,278.9 490.2,277.3 490.4,278.4 490.6,278.4 490.8,277.1 491.0,277.0 491.2,278.1 491.4,278.2 491.7,277.5 491.8,278.2 492.1,277.1 492.3,278.1 492.5,278.0 492.7,278.7 492.9,278.5 493.1,276.9 493.3,278.1 493.5,277.1 493.7,278.0 493.9,278.4 494.1,278.5 494.4,276.8 494.6,278.1 494.8,277.2 495.0,278.0 495.2,278.0 495.4,278.0 495.6,278.6 495.8,277.5 496.0,278.0 496.2,277.4 496.4,277.3 496.6,278.3 496.9,277.2 497.0,278.8 497.3,277.7 497.5,277.1 497.7,278.7 497.9,276.9 498.1,277.6 498.3,278.4 498.6,276.9 498.7,278.6 498.9,278.2 499.1,279.2 499.4,277.6 499.6,278.9 499.8,279.2 500.0,278.1 500.2,277.1 500.4,277.7 500.6,278.9 500.8,276.9 501.0,278.4 501.2,278.2 501.4,278.7 501.6,277.8 501.8,279.2 502.0,277.2 502.2,277.9 502.4,277.7 502.6,278.3 502.8,277.5 503.0,277.9 503.2,278.0 503.4,279.2 503.6,277.0 503.8,277.6 504.0,277.3 504.2,278.7 504.4,278.8 504.7,277.0 504.9,278.9 505.1,279.1 505.3,278.1 505.5,278.4 505.7,278.9 505.9,279.2 506.1,277.5 506.3,278.7 506.5,277.2 506.7,277.9 506.9,279.2 507.1,278.5 507.4,278.3 507.6,278.1 507.8,278.1 508.0,277.1 508.2,278.4 508.4,279.3 508.6,277.3 508.8,277.1 509.0,278.5 509.2,279.0 509.4,278.1 509.7,277.3 509.8,278.6 510.0,278.6 510.3,277.6 510.5,279.0 510.7,278.4 510.9,279.0 511.1,277.6 511.3,278.0 511.5,278.7 511.7,278.7 511.9,279.1 512.1,279.4 512.3,278.8 512.5,277.1 512.7,278.2 512.9,278.7 513.1,279.0 513.4,277.9 513.6,277.3 513.8,278.5 514.0,277.6 514.2,278.4 514.4,277.7 514.6,279.2 514.8,277.2 515.0,278.5 515.2,279.2 515.4,278.7 515.6,277.5 515.8,278.5 516.0,279.1 516.2,278.7 516.4,279.3 516.6,279.1 516.9,278.1 517.1,277.5 517.3,278.8 517.5,278.3 517.7,279.1 517.9,278.2 518.1,278.9 518.3,277.5 518.5,279.0 518.7,279.3 518.9,279.1 519.1,279.0 519.3,278.8 519.5,277.6 519.7,278.0 520.0,277.9 520.2,277.9 520.4,278.6 520.6,278.1 520.8,278.8 521.0,279.4 521.2,279.6 521.4,277.2 521.6,278.7 521.8,278.6 522.0,278.3 522.2,279.0 522.4,279.3 522.6,277.8 522.8,278.8 523.1,277.6 523.3,278.3 523.5,278.1 523.7,279.2 523.9,279.4 524.1,279.3 524.3,278.5 524.5,279.0 524.7,278.8 524.9,278.6 525.1,277.6 525.3,277.9 525.5,279.6 525.7,278.7 525.9,277.6 526.1,278.1 526.3,277.6 526.5,277.6 526.7,278.2 526.9,278.0 527.1,277.3 527.3,278.5 527.5,279.5 527.7,278.4 527.9,278.3 528.1,278.2 528.3,277.9 528.5,278.1 528.7,277.8 528.9,278.3 529.1,279.5 529.3,278.2 529.5,279.4 529.7,278.5 529.9,278.9 530.1,278.5 530.3,278.3 530.5,279.5 530.7,278.8 530.9,277.8 531.1,278.1 531.3,278.3 531.5,278.7 531.8,278.3 532.0,278.0 532.2,278.1 532.4,279.7 532.6,279.1 532.8,279.4 533.0,279.5 533.2,277.7 533.4,278.7 533.6,279.1 533.8,278.5 534.0,278.6 534.2,278.9 534.4,278.9 534.7,277.8 534.9,277.5 535.1,278.0 535.3,277.5 535.5,278.1 535.7,277.5 535.9,277.7 536.1,279.0 536.3,277.9 536.5,279.1 536.7,278.4 536.9,279.4 537.2,278.8 537.4,279.5 537.6,278.4 537.8,278.4 538.0,279.7 538.2,279.1 538.4,278.5 538.6,279.5 538.8,279.2 539.0,279.0 539.3,277.5 539.4,279.6 539.7,277.7 539.9,277.5 540.1,278.3 540.3,277.9 540.5,278.0 540.7,278.6 540.9,278.7 541.1,279.1 541.3,279.5 541.5,279.1 541.7,279.5 541.9,278.5 542.2,277.8 542.3,279.2 542.5,279.9 542.8,277.9 543.0,279.0 543.2,278.4 543.4,279.9 543.6,277.6 543.8,278.6 544.0,278.4"/>
<polyline fill="none" stroke="#ff0000" stroke-width="1.90" stroke-linejoin="round" stroke-linecap="round" points="331.60,5.00 331.62,5.16 331.66,5.20 331.69,5.19 331.74,5.20 331.78,5.31 331.83,5.60 331.87,6.14 331.92,7.00 331.96,8.26 332.00,10.00 332.03,12.24 332.06,14.92 332.08,17.98 332.11,21.36 332.13,25.00 332.16,28.84 332.18,32.82 332.22,36.88 332.25,40.96 332.30,45.00 332.35,49.16 332.42,53.60 332.48,58.24 332.56,63.00 332.63,67.81 332.71,72.60 332.78,77.29 332.86,81.80 332.93,86.06 333.00,90.00 333.06,93.56 333.12,96.80 333.17,99.79 333.21,102.60 333.26,105.31 333.31,108.00 333.37,110.74 333.44,113.60 333.51,116.66 333.60,120.00 333.70,123.66 333.81,127.58 333.93,131.71 334.06,135.95 334.19,140.25 334.33,144.53 334.47,148.71 334.62,152.74 334.76,156.52 334.90,160.00 335.04,163.22 335.20,166.29 335.35,169.21 335.51,171.98 335.67,174.62 335.83,177.14 335.98,179.52 336.13,181.79 336.27,183.95 336.40,186.00 336.52,187.86 336.62,189.47 336.72,190.89 336.81,192.18 336.89,193.38 336.98,194.54 337.07,195.74 337.17,197.01 337.28,198.41 337.40,200.00 337.54,201.80 337.68,203.78 337.84,205.87 338.00,208.05 338.16,210.25 338.33,212.43 338.50,214.55 338.67,216.54 338.84,218.38 339.00,220.00 339.16,221.41 339.31,222.64 339.46,223.73 339.61,224.72 339.76,225.62 339.92,226.48 340.08,227.31 340.24,228.16 340.42,229.05"/>
<polyline fill="none" stroke="#ff0000" stroke-width="2.00" stroke-linejoin="round" stroke-linecap="round" points="340.42,229.05 340.60,230.00 340.80,231.00"/>
<polyline fill="none" stroke="#ff0000" stroke-width="2.10" stroke-linejoin="round" stroke-linecap="round" points="340.80,231.00 341.00,232.00 341.21,233.00"/>
<polyline fill="none" stroke="#ff0000" stroke-width="2.20" stroke-linejoin="round" stroke-linecap="round" points="341.21,233.00 341.43,234.00"/>
<polyline fill="none" stroke="#ff0000" stroke-width="2.30" stroke-linejoin="round" stroke-linecap="round" points="341.43,234.00 341.66,235.00 341.88,236.00"/>
<polyline fill="none" stroke="#ff0000" stroke-width="2.40" stroke-linejoin="round" stroke-linecap="round" points="341.88,236.00 342.11,237.00 342.34,238.00"/>
<polyline fill="none" stroke="#ff0000" stroke-width="2.50" stroke-linejoin="round" stroke-linecap="round" points="342.34,238.00 342.57,239.00 342.80,240.00"/>
<polyline fill="none" stroke="#ff0000" stroke-width="2.60" stroke-linejoin="round" stroke-linecap="round" points="342.80,240.00 343.02,241.02"/>
<polyline fill="none" stroke="#ff0000" stroke-width="2.70" stroke-linejoin="round" stroke-linecap="round" points="343.02,241.02 343.24,242.06 343.45,243.11"/>
<polyline fill="none" stroke="#ff0000" stroke-width="2.80" stroke-linejoin="round" stroke-linecap="round" points="343.45,243.11 343.67,244.17"/>
<polyline fill="none" stroke="#ff0000" stroke-width="2.90" stroke-linejoin="round" stroke-linecap="round" points="343.67,244.17 343.89,245.22 344.11,246.25"/>
<polyline fill="none" stroke="#ff0000" stroke-width="3.00" stroke-linejoin="round" stroke-linecap="round" points="344.11,246.25 344.34,247.26 344.58,248.22"/>
<polyline fill="none" stroke="#ff0000" stroke-width="3.10" stroke-linejoin="round" stroke-linecap="round" points="344.58,248.22 344.83,249.14 345.10,250.00"/>
<polyline fill="none" stroke="#ff0000" stroke-width="3.20" stroke-linejoin="round" stroke-linecap="round" points="345.10,250.00 345.38,250.80 345.66,251.55 345.95,252.25 346.24,252.92 346.55,253.56 346.87,254.17 347.20,254.76 347.55,255.35 347.92,255.92 348.30,256.50 348.71,257.08 349.16,257.64 349.62,258.20 350.11,258.74 350.60,259.27 351.10,259.78 351.59,260.27 352.08,260.74 352.55,261.18 353.00,261.60 353.43,261.99 353.85,262.34 354.27,262.66 354.68,262.97 355.08,263.25 355.48,263.52 355.87,263.79 356.25,264.05 356.63,264.32 357.00,264.60 357.35,264.88 357.68,265.15 357.99,265.41 358.30,265.67 358.60,265.93 358.91,266.19 359.24,266.46 359.59,266.73 359.97,267.01 360.40,267.30 360.88,267.61 361.40,267.95 361.97,268.29 362.56,268.65 363.16,269.01 363.77,269.36 364.37,269.70 364.95,270.03 365.49,270.33 366.00,270.60 366.46,270.84 366.89,271.05 367.29,271.25 367.67,271.42 368.04,271.59 368.40,271.74 368.78,271.90 369.16,272.06 369.57,272.22 370.00,272.40 370.46,272.59 370.94,272.79 371.43,272.99 371.93,273.19 372.44,273.39 372.95,273.59 373.47,273.79 373.98,273.97 374.50,274.14 375.00,274.30 375.48,274.44 375.92,274.57 376.34,274.69 376.76,274.79 377.19,274.89 377.64,274.99 378.13,275.09 378.68,275.19 379.30,275.29 380.00,275.40 380.80,275.52 381.68,275.64 382.63,275.77 383.64,275.89 384.69,276.02 385.76,276.14 386.84,276.27 387.92,276.38 388.98,276.50 390.00,276.60 390.95,276.70 391.84,276.78 392.69,276.87 393.52,276.94 394.38,277.02 395.28,277.09 396.26,277.17 397.36,277.24 398.59,277.32 400.00,277.40 401.55,277.49 403.20,277.58 404.95,277.67 406.80,277.76 408.75,277.86 410.80,277.95 412.95,278.04 415.20,278.13 417.55,278.22 420.00,278.30 422.60,278.38 425.36,278.45 428.26,278.53 431.28,278.60 434.38,278.67 437.52,278.74 440.69,278.80 443.84,278.87 446.96,278.93 450.00,279.00 452.85,279.06 455.46,279.13 457.93,279.19 460.37,279.26 462.88,279.32 465.55,279.38 468.50,279.44 471.82,279.49 475.62,279.55 480.00,279.60 485.31,279.65 491.65,279.70 498.72,279.75 506.22,279.79 513.88,279.84 521.38,279.88 528.43,279.92 534.75,279.95 540.04,279.98 544.00,280.00"/>
<polyline fill="none" stroke="#ff0000" stroke-width="0.9" stroke-linejoin="miter" points="331.6,5.0 331.6,5.2 331.7,5.2 331.7,5.2 331.7,5.2 331.8,5.3 331.8,5.6 331.9,5.9 331.9,6.1 331.9,6.4 331.9,6.6 331.9,6.8 331.9,7.0 331.9,7.2 331.9,7.4 331.9,7.5 331.9,7.7 332.0,7.9 332.0,8.1 332.0,8.3 332.0,8.5 332.0,8.6 332.0,8.8 332.0,9.0 332.0,9.2 332.0,9.4 332.0,9.6 332.0,9.8 332.0,10.0 332.0,10.2 332.0,10.4 332.0,10.6 332.0,10.7 332.0,10.9 332.0,11.1 332.0,11.3 332.0,11.5 332.0,11.7 332.0,11.9 332.0,12.1 332.0,12.2 332.0,12.4 332.0,12.6 332.0,12.8 332.0,13.0 332.0,13.2 332.0,13.4 332.0,13.6 332.0,13.8 332.1,14.0 332.1,14.2 332.1,14.3 332.1,14.5 332.1,14.7 332.1,14.9 332.1,15.1 332.1,15.3 332.1,15.5 332.1,15.6 332.1,15.8 332.1,16.0 332.1,16.2 332.1,16.4 332.1,16.5 332.1,16.7 332.1,16.9 332.1,17.1 332.1,17.3 332.1,17.4 332.1,17.6 332.1,17.8 332.1,18.0 332.1,18.2 332.1,18.4 332.1,18.5 332.1,18.7 332.1,18.9 332.1,19.1 332.1,19.3 332.1,19.5 332.1,19.7 332.1,19.9 332.1,20.0 332.1,20.2 332.1,20.4 332.1,20.6 332.1,20.8 332.1,21.0 332.1,21.2 332.1,21.4 332.1,21.5 332.1,21.7 332.1,21.9 332.1,22.1 332.1,22.3 332.1,22.5 332.1,22.6 332.1,22.8 332.1,23.0 332.1,23.2 332.1,23.4 332.1,23.5 332.1,23.7 332.1,23.9 332.1,24.1 332.1,24.3 332.1,24.5 332.1,24.6 332.1,24.8 332.1,25.0 332.1,25.2 332.1,25.4 332.1,25.5 332.1,25.7 332.1,25.9 332.1,26.1 332.1,26.3 332.1,26.5 332.1,26.6 332.1,26.8 332.1,27.0 332.1,27.2 332.1,27.4 332.1,27.6 332.1,27.7 332.2,27.9 332.2,28.1 332.2,28.3 332.2,28.5 332.2,28.7 332.2,28.8 332.2,29.0 332.2,29.2 332.2,29.4 332.2,29.6 332.2,29.7 332.2,29.9 332.2,30.1 332.2,30.3 332.2,30.5 332.2,30.6 332.2,30.8 332.2,31.0 332.2,31.2 332.2,31.4 332.2,31.6 332.2,31.7 332.2,31.9 332.2,32.1 332.2,32.3 332.2,32.5 332.2,32.6 332.2,32.8 332.2,33.0 332.2,33.2 332.2,33.4 332.2,33.6 332.2,33.7 332.2,33.9 332.2,34.1 332.2,34.3 332.2,34.5 332.2,34.7 332.2,34.8 332.2,35.0 332.2,35.2 332.2,35.4 332.2,35.6 332.2,35.8 332.2,36.0 332.2,36.1 332.2,36.3 332.2,36.5 332.2,36.7 332.2,36.9 332.2,37.1 332.2,37.3 332.2,37.4 332.2,37.6 332.2,37.8 332.2,38.0 332.2,38.2 332.2,38.4 332.2,38.5 332.2,38.7 332.2,38.9 332.2,39.1 332.2,39.3 332.2,39.5 332.2,39.7 332.2,39.8 332.2,40.0 332.2,40.2 332.2,40.4 332.3,40.6 332.3,40.8 332.3,41.0 332.3,41.1 332.3,41.3 332.3,41.5 332.3,41.7 332.3,41.9 332.3,42.1 332.3,42.2 332.3,42.4 332.3,42.6 332.3,42.8 332.3,43.0 332.3,43.2 332.3,43.3 332.3,43.5 332.3,43.7 332.3,43.9 332.3,44.1 332.3,44.3 332.3,44.4 332.3,44.6 332.3,44.8 332.3,45.0 332.3,45.2 332.3,45.4 332.3,45.5 332.3,45.7 332.3,45.9 332.3,46.1 332.3,46.3 332.3,46.4 332.3,46.6 332.3,46.8 332.3,47.0 332.3,47.2 332.3,47.4 332.3,47.5 332.3,47.7 332.3,47.9 332.3,48.1 332.3,48.3 332.3,48.4 332.3,48.6 332.3,48.8 332.4,49.0 332.4,49.2 332.4,49.3 332.4,49.5 332.4,49.7 332.4,49.9 332.4,50.1 332.4,50.3 332.4,50.5 332.4,50.6 332.4,50.8 332.4,51.0 332.4,51.2 332.4,51.4 332.4,51.6 332.4,51.8 332.4,51.9 332.4,52.1 332.4,52.3 332.4,52.5 332.4,52.7 332.4,52.9 332.4,53.0 332.4,53.2 332.4,53.4 332.4,53.6 332.4,53.8 332.4,54.0 332.4,54.2 332.4,54.3 332.4,54.5 332.4,54.7 332.4,54.9 332.4,55.1 332.4,55.3 332.4,55.5 332.4,55.6 332.4,55.8 332.5,56.0 332.5,56.2 332.5,56.4 332.5,56.6 332.5,56.8 332.5,56.9 332.5,57.1 332.5,57.3 332.5,57.5 332.5,57.7 332.5,57.9 332.5,58.1 332.5,58.2 332.5,58.4 332.5,58.6 332.5,58.8 332.5,59.0 332.5,59.2 332.5,59.3 332.5,59.5 332.5,59.7 332.5,59.9 332.5,60.1 332.5,60.3 332.5,60.4 332.5,60.6 332.5,60.8 332.5,61.0 332.5,61.2 332.5,61.4 332.5,61.5 332.5,61.7 332.5,61.9 332.5,62.1 332.5,62.3 332.5,62.5 332.6,62.6 332.6,62.8 332.6,63.0 332.6,63.2 332.6,63.4 332.6,63.6 332.6,63.7 332.6,63.9 332.6,64.1 332.6,64.3 332.6,64.5 332.6,64.7 332.6,64.9 332.6,65.0 332.6,65.2 332.6,65.4 332.6,65.6 332.6,65.8 332.6,66.0 332.6,66.1 332.6,66.3 332.6,66.5 332.6,66.7 332.6,66.9 332.6,67.1 332.6,67.3 332.6,67.4 332.6,67.6 332.6,67.8 332.6,68.0 332.6,68.2 332.6,68.4 332.6,68.5 332.6,68.7 332.6,68.9 332.7,69.1 332.7,69.3 332.7,69.5 332.7,69.7 332.7,69.8 332.7,70.0 332.7,70.2 332.7,70.4 332.7,70.6 332.7,70.8 332.7,70.9 332.7,71.1 332.7,71.3 332.7,71.5 332.7,71.7 332.7,71.9 332.7,72.0 332.7,72.2 332.7,72.4 332.7,72.6 332.7,72.8 332.7,73.0 332.7,73.1 332.7,73.3 332.7,73.5 332.7,73.7 332.7,73.9 332.7,74.0 332.7,74.2 332.7,74.4 332.7,74.6 332.7,74.8 332.7,74.9 332.7,75.1 332.8,75.3 332.8,75.5 332.8,75.7 332.8,75.8 332.8,76.0 332.8,76.2 332.8,76.4 332.8,76.6 332.8,76.7 332.8,76.9 332.8,77.1 332.8,77.3 332.8,77.5 332.8,77.6 332.8,77.8 332.8,78.0 332.8,78.2 332.8,78.4 332.8,78.6 332.8,78.7 332.8,78.9 332.8,79.1 332.8,79.3 332.8,79.5 332.8,79.6 332.8,79.8 332.8,80.0 332.8,80.2 332.8,80.4 332.8,80.5 332.8,80.7 332.8,80.9 332.8,81.1 332.9,81.3 332.9,81.4 332.9,81.6 332.9,81.8 332.9,82.0 332.9,82.2 332.9,82.4 332.9,82.5 332.9,82.7 332.9,82.9 332.9,83.1 332.9,83.3 332.9,83.5 332.9,83.7 332.9,83.8 332.9,84.0 332.9,84.2 332.9,84.4 332.9,84.6 332.9,84.8 332.9,85.0 332.9,85.1 332.9,85.3 332.9,85.5 332.9,85.7 332.9,85.9 332.9,86.1 332.9,86.2 332.9,86.4 332.9,86.6 332.9,86.8 332.9,87.0 333.0,87.2 333.0,87.4 333.0,87.6 333.0,87.8 333.0,87.9 333.0,88.1 333.0,88.3 333.0,88.5 333.0,88.7 333.0,88.9 333.0,89.1 333.0,89.2 333.0,89.4 333.0,89.6 333.0,89.8 333.0,90.0 333.0,90.2 333.0,90.4 333.0,90.6 333.0,90.8 333.0,90.9 333.0,91.1 333.0,91.3 333.0,91.5 333.0,91.7 333.0,91.9 333.0,92.1 333.0,92.2 333.0,92.4 333.0,92.6 333.0,92.8 333.1,93.0 333.1,93.2 333.1,93.4 333.1,93.6 333.1,93.8 333.1,93.9 333.1,94.1 333.1,94.3 333.1,94.5 333.1,94.7 333.1,94.9 333.1,95.1 333.1,95.3 333.1,95.5 333.1,95.7 333.1,95.8 333.1,96.0 333.1,96.2 333.1,96.4 333.1,96.6 333.1,96.8 333.1,97.0 333.1,97.2 333.1,97.4 333.1,97.5 333.1,97.7 333.1,97.9 333.1,98.1 333.1,98.3 333.1,98.5 333.1,98.7 333.1,98.9 333.2,99.0 333.2,99.2 333.2,99.4 333.2,99.6 333.2,99.8 333.2,100.0 333.2,100.2 333.2,100.4 333.2,100.5 333.2,100.7 333.2,100.9 333.2,101.1 333.2,101.3 333.2,101.5 333.2,101.7 333.2,101.8 333.2,102.0 333.2,102.2 333.2,102.4 333.2,102.6 333.2,102.8 333.2,103.0 333.2,103.1 333.2,103.3 333.2,103.5 333.2,103.7 333.2,103.9 333.2,104.0 333.2,104.2 333.2,104.4 333.2,104.6 333.3,104.8 333.3,105.0 333.3,105.1 333.3,105.3 333.3,105.5 333.3,105.7 333.3,105.9 333.3,106.1 333.3,106.3 333.3,106.5 333.3,106.7 333.3,106.8 333.3,107.0 333.3,107.2 333.3,107.4 333.3,107.6 333.3,107.8 333.3,108.0 333.3,108.2 333.3,108.4 333.3,108.5 333.3,108.7 333.3,108.9 333.3,109.1 333.3,109.3 333.3,109.5 333.3,109.6 333.4,109.8 333.4,110.0 333.4,110.2 333.4,110.4 333.4,110.6 333.4,110.7 333.4,110.9 333.4,111.1 333.4,111.3 333.4,111.5 333.4,111.7 333.4,111.9 333.4,112.1 333.4,112.3 333.4,112.5 333.4,112.6 333.4,112.8 333.4,113.0 333.4,113.2 333.4,113.4 333.4,113.6 333.4,113.8 333.4,114.0 333.5,114.1 333.5,114.3 333.5,114.5 333.5,114.7 333.5,114.9 333.5,115.0 333.5,115.2 333.5,115.4 333.5,115.6 333.5,115.8 333.5,115.9 333.5,116.1 333.5,116.3 333.5,116.5 333.5,116.7 333.5,116.8 333.5,117.0 333.5,117.2 333.5,117.4 333.5,117.6 333.5,117.8 333.5,118.0 333.6,118.1 333.6,118.3 333.6,118.5 333.6,118.7 333.6,118.9 333.6,119.1 333.6,119.3 333.6,119.4 333.6,119.6 333.6,119.8 333.6,120.0 333.6,120.2 333.6,120.4 333.6,120.5 333.6,120.7 333.6,120.9 333.6,121.1 333.6,121.3 333.6,121.5 333.6,121.6 333.7,121.8 333.7,122.0 333.7,122.2 333.7,122.4 333.7,122.6 333.7,122.7 333.7,122.9 333.7,123.1 333.7,123.3 333.7,123.5 333.7,123.7 333.7,123.8 333.7,124.0 333.7,124.2 333.7,124.4 333.7,124.6 333.7,124.8 333.7,125.0 333.7,125.2 333.7,125.3 333.8,125.5 333.8,125.7 333.8,125.9 333.8,126.1 333.8,126.3 333.8,126.5 333.8,126.6 333.8,126.8 333.8,127.0 333.8,127.2 333.8,127.4 333.8,127.6 333.8,127.8 333.8,128.0 333.8,128.1 333.8,128.3 333.8,128.5 333.8,128.7 333.9,128.9 333.9,129.1 333.9,129.3 333.9,129.5 333.9,129.6 333.9,129.8 333.9,130.0 333.9,130.2 333.9,130.4 333.9,130.6 333.9,130.8 333.9,131.0 333.9,131.1 333.9,131.3 333.9,131.5 333.9,131.7 333.9,131.9 333.9,132.1 333.9,132.3 334.0,132.4 334.0,132.6 334.0,132.8 334.0,133.0 334.0,133.2 334.0,133.4 334.0,133.6 334.0,133.7 334.0,133.9 334.0,134.1 334.0,134.3 334.0,134.5 334.0,134.7 334.0,134.8 334.0,135.0 334.0,135.2 334.0,135.4 334.0,135.6 334.1,135.8 334.1,136.0 334.1,136.1 334.1,136.3 334.1,136.5 334.1,136.7 334.1,136.9 334.1,137.1 334.1,137.3 334.1,137.4 334.1,137.6 334.1,137.8 334.1,138.0 334.1,138.2 334.1,138.4 334.1,138.6 334.1,138.8 334.2,138.9 334.2,139.1 334.2,139.3 334.2,139.5 334.2,139.7 334.2,139.9 334.2,140.1 334.2,140.2 334.2,140.4 334.2,140.6 334.2,140.8 334.2,141.0 334.2,141.2 334.2,141.4 334.2,141.6 334.2,141.7 334.2,141.9 334.3,142.1 334.3,142.3 334.3,142.5 334.3,142.7 334.3,142.9 334.3,143.0 334.3,143.2 334.3,143.4 334.3,143.6 334.3,143.8 334.3,144.0 334.3,144.2 334.3,144.3 334.3,144.5 334.3,144.7 334.3,144.9 334.4,145.1 334.4,145.3 334.4,145.4 334.4,145.6 334.4,145.8 334.4,146.0 334.4,146.2 334.4,146.3 334.4,146.5 334.4,146.7 334.4,146.9 334.4,147.1 334.4,147.3 334.4,147.4 334.4,147.6 334.4,147.8 334.4,148.0 334.5,148.2 334.5,148.3 334.5,148.5 334.5,148.7 334.5,148.9 334.5,149.1 334.5,149.3 334.5,149.4 334.5,149.6 334.5,149.8 334.5,150.0 334.5,150.2 334.5,150.4 334.5,150.5 334.5,150.7 334.6,150.9 334.6,151.1 334.6,151.3 334.6,151.5 334.6,151.6 334.6,151.8 334.6,152.0 334.6,152.2 334.6,152.4 334.6,152.6 334.6,152.7 334.6,152.9 334.6,153.1 334.6,153.3 334.6,153.5 334.6,153.6 334.7,153.8 334.7,154.0 334.7,154.2 334.7,154.4 334.7,154.5 334.7,154.7 334.7,154.9 334.7,155.1 334.7,155.3 334.7,155.4 334.7,155.6 334.7,155.8 334.7,156.0 334.7,156.2 334.8,156.3 334.8,156.5 334.8,156.7 334.8,156.9 334.8,157.1 334.8,157.3 334.8,157.4 334.8,157.6 334.8,157.8 334.8,158.0 334.8,158.2 334.8,158.4 334.8,158.5 334.8,158.7 334.9,158.9 334.9,159.1 334.9,159.3 334.9,159.5 334.9,159.6 334.9,159.8 334.9,160.0 334.9,160.2 334.9,160.4 334.9,160.6 334.9,160.8 334.9,160.9 335.0,161.1 335.0,161.3 335.0,161.5 335.0,161.7 335.0,161.9 335.0,162.1 335.0,162.3 335.0,162.5 335.0,162.7 335.0,162.8 335.0,163.0 335.0,163.2 335.1,163.4 335.1,163.6 335.1,163.8 335.1,163.9 335.1,164.1 335.1,164.3 335.1,164.5 335.1,164.7 335.1,164.8 335.1,165.0 335.1,165.2 335.2,165.4 335.2,165.6 335.2,165.7 335.2,165.9 335.2,166.1 335.2,166.3 335.2,166.5 335.2,166.7 335.2,166.8 335.2,167.0 335.2,167.2 335.3,167.4 335.3,167.6 335.3,167.7 335.3,167.9 335.3,168.1 335.3,168.3 335.3,168.5 335.3,168.7 335.3,168.8 335.3,169.0 335.4,169.2 335.4,169.4 335.4,169.6 335.4,169.8 335.4,169.9 335.4,170.1 335.4,170.3 335.4,170.5 335.4,170.7 335.4,170.9 335.5,171.1 335.5,171.2 335.5,171.4 335.5,171.6 335.5,171.8 335.5,172.0 335.5,172.2 335.5,172.4 335.5,172.5 335.6,172.7 335.6,172.9 335.6,173.1 335.6,173.3 335.6,173.5 335.6,173.7 335.6,173.9 335.6,174.1 335.6,174.2 335.7,174.4 335.7,174.6 335.7,174.8 335.7,175.0 335.7,175.2 335.7,175.4 335.7,175.6 335.7,175.8 335.8,176.0 335.8,176.2 335.8,176.4 335.8,176.6 335.8,176.7 335.8,176.9 335.8,177.1 335.8,177.3 335.9,177.5 335.9,177.7 335.9,177.9 335.9,178.1 335.9,178.2 335.9,178.4 335.9,178.6 335.9,178.8 335.9,179.0 336.0,179.2 336.0,179.3 336.0,179.5 336.0,179.7 336.0,179.9 336.0,180.1 336.0,180.3 336.0,180.5 336.1,180.7 336.1,180.8 336.1,181.0 336.1,181.2 336.1,181.4 336.1,181.6 336.1,181.8 336.1,182.0 336.2,182.2 336.2,182.3 336.2,182.5 336.2,182.7 336.2,182.9 336.2,183.1 336.2,183.2 336.2,183.4 336.2,183.6 336.3,183.8 336.3,183.9 336.3,184.1 336.3,184.3 336.3,184.5 336.3,184.7 336.3,184.9 336.3,185.1 336.4,185.3 336.4,185.4 336.4,185.6 336.4,185.8 336.4,186.0 336.4,186.2 336.4,186.4 336.4,186.6 336.4,186.7 336.5,186.9 336.5,187.1 336.5,187.3 336.5,187.5 336.5,187.7 336.5,187.9 336.5,188.1 336.5,188.3 336.6,188.5 336.6,188.7 336.6,188.9 336.6,189.1 336.6,189.3 336.6,189.5 336.6,189.7 336.6,189.9 336.7,190.1 336.7,190.3 336.7,190.5 336.7,190.7 336.7,190.9 336.7,191.1 336.7,191.3 336.8,191.4 336.8,191.6 336.8,191.8 336.8,192.0 336.8,192.2 336.8,192.4 336.8,192.6 336.9,192.8 336.9,193.0 336.9,193.2 336.9,193.4 336.9,193.6 336.9,193.8 336.9,194.0 337.0,194.2 337.0,194.3 337.0,194.5 337.0,194.7 337.0,194.9 337.0,195.1 337.0,195.3 337.1,195.5 337.1,195.7 337.1,195.9 337.1,196.1 337.1,196.3 337.1,196.5 337.1,196.6 337.2,196.8 337.2,197.0 337.2,197.2 337.2,197.4 337.2,197.6 337.2,197.8 337.2,198.0 337.3,198.2 337.3,198.4 337.3,198.6 337.3,198.8 337.3,199.0 337.3,199.2 337.4,199.4 337.4,199.6 337.4,199.8 337.4,200.0 337.4,200.2 337.4,200.4 337.4,200.5 337.5,200.7 337.5,200.9 337.5,201.1 337.5,201.3 337.5,201.4 337.5,201.6 337.5,201.8 337.6,202.0 337.6,202.2 337.6,202.4 337.6,202.6 337.6,202.8 337.6,203.0 337.6,203.2 337.7,203.4 337.7,203.6 337.7,203.8 337.7,204.0 337.7,204.2 337.7,204.3 337.7,204.5 337.8,204.7 337.8,204.9 337.3,205.1 337.3,205.3 337.3,205.5 338.3,205.6 337.7,205.9 337.9,206.0 337.8,206.2 338.3,206.4 338.3,206.6 338.0,206.8 338.3,206.9 338.0,207.1 338.5,207.3 338.5,207.5 337.7,207.7 338.1,207.9 338.0,208.0 337.7,208.3 338.2,208.4 338.6,208.6 337.7,208.8 338.0,209.0 337.9,209.2 337.9,209.3 337.5,209.6 338.3,209.7 337.8,209.9 338.3,210.1 338.1,210.3 338.0,210.4 338.4,210.6 338.7,210.8 338.2,211.0 338.0,211.2 338.1,211.3 338.3,211.5 338.1,211.7 338.7,211.9 338.7,212.0 338.5,212.2 338.0,212.5 338.7,212.6 338.8,212.8 338.9,213.0 338.9,213.2 338.7,213.4 338.3,213.6 338.1,213.8 338.7,214.0 338.6,214.1 338.7,214.3 338.7,214.5 338.2,214.8 338.5,214.9 338.8,215.1 339.0,215.2 338.2,215.5 338.3,215.7 338.2,215.9 338.9,216.0 338.6,216.2 338.2,216.4 338.6,216.6 338.2,216.8 339.1,216.9 338.2,217.1 339.3,217.2 338.9,217.5 339.3,217.6 338.4,217.9 338.6,218.0 338.3,218.2 338.5,218.4 338.3,218.6 338.8,218.7 338.3,219.0 338.6,219.1 339.1,219.3 338.4,219.5 339.1,219.6 339.3,219.8 339.5,219.9 339.1,220.2 339.4,220.4 338.6,220.7 338.6,220.9 339.5,221.0 339.6,221.1 339.1,221.4 339.6,221.6 339.2,221.8 338.9,222.1 339.6,222.2 339.4,222.4 338.8,222.7 339.4,222.8 339.5,223.0 338.9,223.3 339.0,223.4 339.0,223.6 339.2,223.8 339.6,223.9 339.3,224.2 339.2,224.4 339.4,224.5 339.9,224.7 339.9,224.9 339.8,225.1 339.4,225.3 339.7,225.5 339.7,225.6 339.4,225.9 340.3,226.0 339.7,226.3 340.1,226.4 339.9,226.7 339.6,227.0 340.3,227.0 339.5,227.4 340.6,227.4 340.1,227.8 340.2,228.0 340.6,228.1 340.2,228.4 340.3,228.5 340.4,228.7 340.1,228.9 341.0,228.9 340.6,229.2 340.2,229.5 340.9,229.5 340.1,229.9 340.9,229.9 340.4,230.2 341.1,230.3 340.8,230.6 340.8,230.8 341.3,230.9 340.6,231.2 340.9,231.4 340.7,231.6 340.9,231.8 340.8,232.0 341.0,232.2 341.6,232.3 340.0,232.8 342.3,232.6 340.2,233.2 340.3,233.4 341.3,233.4 340.6,233.8 340.9,233.9 341.1,234.1 342.0,234.1 342.0,234.3 342.0,234.5 342.2,234.7 340.4,235.3 342.1,235.1 342.1,235.3 342.0,235.5 341.0,236.0 341.9,236.0 341.8,236.2 342.6,236.2 342.6,236.5 343.2,236.5 342.9,236.8 342.8,237.1 341.2,237.6 342.2,237.6 343.4,237.6 342.4,238.0 343.4,238.0 342.3,238.4 342.6,238.6 341.5,239.0 343.2,238.9 341.7,239.4 343.4,239.2 341.4,239.9 342.4,239.9 344.0,239.7 342.0,240.4 343.5,240.3 343.3,240.5 343.9,240.6 342.1,241.2 344.2,241.0 342.5,241.6 343.4,241.6 342.7,241.9 344.3,241.8 345.4,241.8 341.2,242.9 342.6,242.8 345.1,242.6 341.0,243.6 341.4,243.7 345.2,243.2 346.0,243.2 343.1,244.1 345.5,243.8 342.5,244.6 343.9,244.6 342.7,245.0 343.5,245.1 342.5,245.5 342.3,245.8 343.5,245.7 343.6,245.9 344.9,245.9 346.0,245.8 346.2,246.0 342.4,247.1 345.7,246.5 344.7,247.0 345.3,247.0 343.8,247.6 344.3,247.7 342.7,248.3 344.9,247.9 345.3,248.0 343.9,248.6 343.5,248.9 342.6,249.4 345.7,248.7 342.9,249.7 342.5,250.1 342.6,250.3 346.9,249.2 345.7,249.8 343.8,250.7 343.6,251.0 347.6,249.8 345.9,250.6 344.4,251.4 344.3,251.6 345.4,251.4 347.1,251.0 346.2,251.5 347.9,251.0 346.8,251.7 346.3,252.1 344.5,253.1 345.7,252.8 346.6,252.6 347.4,252.4 347.2,252.7 345.7,253.7 346.8,253.4 348.2,253.0 345.3,254.7 346.5,254.4 344.9,255.5 346.9,254.7 346.6,255.1 347.6,254.8 347.0,255.4 345.7,256.5 345.6,256.9 347.1,256.2 348.2,255.7 349.9,254.9 346.7,257.3 348.8,256.2 348.9,256.3 350.4,255.5 350.7,255.6 349.3,256.9 347.1,259.0 348.2,258.4 348.4,258.5 348.7,258.5 350.4,257.3 350.9,257.1 349.3,258.7 351.6,257.0 349.6,258.9 350.1,258.8 350.1,259.0 351.8,257.7 352.1,257.6 350.7,259.2 352.1,258.2 350.4,260.1 351.8,259.1 350.8,260.4 350.5,261.0 351.2,260.7 351.6,260.5 353.0,259.4 352.6,260.2 350.5,262.7 353.2,260.2 353.3,260.4 352.7,261.3 352.7,261.6 352.0,262.7 353.9,260.9 351.7,263.7 355.1,260.1 352.6,263.3 353.5,262.5 352.6,264.0 355.2,261.1 353.7,263.4 353.1,264.7 354.2,263.7 356.0,261.5 353.8,265.0 353.9,265.4 356.6,261.9 354.7,265.1 357.1,262.0 357.3,262.1 355.4,265.3 355.8,265.1 355.2,266.2 356.4,265.0 357.0,264.6 357.9,263.8 357.1,265.2 355.9,267.0 357.2,265.7 356.6,266.8 359.0,264.2 357.4,266.5 357.5,266.6 359.9,264.1 357.5,267.2 359.8,264.8 359.8,265.1 360.5,264.5 358.7,267.1 360.5,265.1 358.1,268.7 361.3,264.8 359.0,268.3 359.4,268.3 360.2,267.6 360.4,267.7 359.9,268.8 360.5,268.2 362.1,266.1 360.4,269.1 361.8,267.3 361.4,268.4 361.7,268.2 360.9,270.1 362.4,268.0 361.4,270.1 363.7,266.8 363.2,268.0 362.5,269.7 362.9,269.5 362.5,270.6 364.3,267.9 363.0,270.7 363.2,270.8 365.1,268.0 365.3,268.1 364.3,270.2 363.5,272.1 364.7,270.5 365.3,269.8 365.3,270.3 364.7,271.7 365.6,270.5 365.7,270.7 365.8,271.0 365.2,272.7 365.7,272.2 365.9,272.5 367.4,270.0 366.9,271.6 366.6,272.8 367.0,272.4 366.7,273.6 367.0,273.5 368.8,269.8 368.2,271.7 368.7,271.1 369.2,270.4 368.8,271.9 368.0,274.3 368.6,273.3 370.2,270.2 370.1,271.0 370.0,271.7 369.2,274.3 370.3,272.3 371.1,271.0 370.6,272.9 371.4,271.6 372.1,270.7 371.2,273.4 370.6,275.4 371.2,274.5 371.5,274.3 372.8,271.6 372.1,273.6 372.2,274.1 372.1,274.7 372.9,273.3 373.8,271.4 372.3,275.7 373.7,272.6 373.0,275.0 373.7,273.7 373.3,275.3 374.3,273.2 374.9,272.0 374.6,273.8 374.8,274.1 374.6,275.8 375.4,273.9 375.2,275.3 375.9,273.9 375.6,275.7 376.6,273.0 375.8,276.6 376.0,277.0 377.4,272.4 376.5,276.7 376.9,276.3 377.2,275.9 378.1,273.0 377.7,276.2 377.9,276.5 378.2,275.8 378.1,277.5 378.3,277.5 378.8,275.9 378.7,277.4 379.6,273.5 379.7,274.3 379.7,275.5 380.0,275.5 379.8,277.8 380.3,276.2 380.5,276.1 380.7,276.1 380.7,277.8 381.3,275.1 381.3,276.8 381.6,276.2 381.9,275.2 382.2,274.9 382.5,273.9 382.8,273.2 382.7,274.9 383.0,274.8 383.3,273.7 383.2,275.8 383.5,275.1 383.4,278.1 383.7,277.4 384.0,276.8 384.1,277.8 384.6,274.8 384.9,274.0 384.8,276.6 385.3,274.7 385.0,278.6 385.6,275.7 385.5,278.1 386.1,274.9 386.4,274.1 386.2,276.9 386.4,277.2 386.8,275.0 386.6,278.5 386.8,278.7 387.1,277.3 387.1,278.8 387.3,278.8 387.9,274.5 387.8,277.6 388.0,277.7 388.2,277.6 388.6,275.6 388.7,276.7 388.9,277.0 389.0,278.3 389.6,274.2 389.7,275.9 389.9,275.6 389.8,278.1 390.4,274.6 390.6,274.4 390.8,274.7 391.0,274.7 391.0,276.4 391.0,278.6 391.5,276.0 391.8,274.7 391.8,277.7 392.1,275.9 392.2,277.2 392.4,278.1 392.7,276.6 392.8,278.1 393.0,277.5 393.1,278.7 393.4,278.3 393.5,279.0 393.8,278.3 394.3,275.9 394.4,277.0 394.4,278.4 394.6,278.5 394.8,278.3 395.0,278.9 395.1,278.8 395.5,277.3 395.6,277.8 396.0,274.8 396.1,277.0 396.2,278.3 396.3,279.3 396.5,279.0 396.8,276.9 397.1,275.8 397.0,279.2 397.3,278.1 397.7,275.7 397.9,274.9 397.9,279.2 398.2,277.7 398.5,275.3 398.4,279.9 398.8,277.8 398.9,278.7 399.1,278.9 399.5,276.1 399.6,277.5 399.9,275.7 400.0,277.9 400.2,277.1 400.3,278.8 400.7,275.7 400.9,276.1 401.0,276.9 401.3,275.2 401.4,277.0 401.4,279.6 401.6,279.2 402.0,276.0 402.0,279.0 402.4,276.3 402.5,276.3 402.6,278.2 402.9,276.6 403.1,276.2 403.3,275.7 403.5,276.1 403.7,276.2 403.7,279.5 404.1,275.5 404.2,277.8 404.4,276.3 404.5,278.7 404.9,275.4 405.0,277.1 405.1,278.8 405.4,275.5 405.5,277.3 405.7,276.9 405.9,277.6 406.0,278.3 406.3,275.8 406.3,279.4 406.7,276.7 406.7,279.0 407.1,276.1 407.3,275.9 407.5,276.4 407.7,275.9 407.8,276.7 408.0,276.2 408.3,275.9 408.3,279.5 408.5,278.0 408.8,277.8 408.9,277.9 409.1,279.3 409.4,275.8 409.6,275.8 409.6,278.7 410.0,275.6 410.1,277.9 410.2,278.5 410.4,279.5 410.7,275.6 410.8,277.5 411.0,277.1 411.2,278.3 411.5,275.8 411.5,279.2 411.7,280.1 412.0,278.2 412.1,278.8 412.3,279.6 412.5,279.6 412.7,279.5 413.0,278.0 413.2,276.2 413.3,279.4 413.4,279.6 413.7,279.0 413.9,277.2 414.0,280.3 414.2,278.7 414.5,277.2 414.6,279.4 414.9,276.8 415.1,276.9 415.1,280.0 415.5,276.1 415.5,279.8 415.8,277.7 415.9,278.5 416.1,279.0 416.2,280.0 416.5,276.9 416.7,276.3 416.8,278.2 417.1,276.9 417.2,277.9 417.4,276.4 417.6,276.3 417.7,278.5 418.0,276.2 418.2,277.2 418.3,277.7 418.6,276.4 418.6,279.7 418.8,280.1 419.1,276.1 419.2,279.7 419.5,276.8 419.6,279.3 419.9,276.3 420.0,279.4 420.1,280.3 420.4,277.2 420.6,276.8 420.8,277.6 420.9,280.0 421.1,279.6 421.3,276.8 421.4,280.2 421.6,279.5 421.8,280.5 422.0,280.5 422.3,276.8 422.4,279.4 422.7,276.2 422.8,277.0 423.0,278.6 423.2,277.2 423.4,277.1 423.5,277.7 423.7,278.2 423.8,280.3 424.1,278.8 424.2,278.7 424.4,279.4 424.7,277.0 424.8,279.8 425.0,279.7 425.1,279.9 425.4,278.2 425.5,278.7 425.8,276.5 425.9,278.3 426.1,279.1 426.2,280.5 426.4,280.3 426.6,277.7 426.8,279.7 427.0,280.1 427.1,280.6 427.3,279.3 427.6,277.7 427.7,280.2 428.0,276.3 428.1,278.8 428.3,278.3 428.4,280.3 428.6,279.1 428.9,277.2 429.1,277.0 429.3,276.4 429.4,279.7 429.6,279.9 429.8,278.0 430.0,277.3 430.1,278.8 430.4,277.2 430.5,278.7 430.7,277.9 430.9,277.8 431.1,279.5 431.3,277.4 431.5,277.8 431.6,278.9 431.8,280.6 432.0,277.0 432.2,277.7 432.4,277.6 432.6,277.8 432.7,278.6 432.9,280.1 433.1,277.2 433.3,279.7 433.5,278.3 433.6,279.0 433.8,278.7 434.0,279.1 434.2,277.2 434.4,279.2 434.6,278.2 434.7,280.0 434.9,279.1 435.1,278.3 435.3,280.9 435.5,277.2 435.7,276.5 435.9,277.0 436.0,279.6 436.3,276.8 436.4,279.8 436.6,276.8 436.8,277.8 437.0,279.3 437.2,276.5 437.3,278.4 437.5,281.0 437.7,279.8 437.9,278.2 438.0,280.6 438.3,279.1 438.4,280.2 438.7,278.0 438.8,278.2 439.0,279.7 439.2,280.0 439.4,279.7 439.6,277.2 439.8,278.4 440.0,278.0 440.1,277.8 440.3,277.4 440.5,279.7 440.7,277.5 440.9,278.3 441.1,277.1 441.2,279.6 441.4,279.3 441.6,277.3 441.8,280.4 441.9,280.6 442.2,279.7 442.3,279.9 442.5,279.6 442.8,277.1 442.9,278.0 443.1,277.9 443.3,277.1 443.5,279.4 443.6,279.2 443.9,278.4 444.0,279.8 444.2,277.9 444.4,278.1 444.6,277.5 444.8,277.9 444.9,280.2 445.1,278.9 445.3,279.8 445.5,280.2 445.7,279.5 445.9,278.4 446.0,280.6 446.3,277.4 446.4,278.6 446.6,280.3 446.8,279.6 447.0,278.4 447.1,280.1 447.3,279.9 447.5,279.8 447.7,278.1 447.9,279.6 448.1,279.5 448.3,280.2 448.5,279.0 448.6,280.5 448.8,279.8 449.1,277.9 449.2,279.3 449.5,277.9 449.6,279.4 449.8,278.4 450.0,280.8 450.2,278.4 450.4,280.1 450.5,280.2 450.8,278.6 450.9,279.3 451.2,278.1 451.3,278.6 451.5,278.8 451.7,279.8 451.9,279.1 452.1,277.8 452.3,279.6 452.5,279.1 452.7,279.2 452.9,278.9 453.0,280.4 453.2,279.6 453.4,279.7 453.6,279.1 453.8,278.7 454.0,278.8 454.1,279.7 454.3,278.9 454.6,277.6 454.7,278.1 454.9,277.5 455.1,277.5 455.3,278.6 455.5,278.7 455.7,279.0 455.9,278.1 456.1,278.2 456.2,279.0 456.4,278.4 456.6,278.3 456.8,279.1 457.0,280.1 457.2,277.6 457.4,277.4 457.6,279.0 457.7,280.6 457.9,279.7 458.1,278.7 458.3,280.9 458.5,279.9 458.6,280.4 458.8,280.4 459.1,277.6 459.3,278.1 459.4,280.3 459.6,278.8 459.8,280.7 460.0,277.7 460.1,280.8 460.4,279.7 460.6,278.9 460.7,280.5 460.9,279.4 461.1,279.1 461.4,278.1 461.5,280.3 461.7,278.0 461.9,278.6 462.1,277.8 462.3,277.6 462.5,278.6 462.7,277.7 462.9,279.2 463.1,278.8 463.3,277.6 463.5,279.2 463.7,278.6 463.9,278.4 464.0,279.5 464.2,278.7 464.4,277.7 464.6,280.9 464.7,281.1 465.0,278.4 465.2,279.9 465.4,279.7 465.6,278.5 465.7,279.5 465.9,278.5 466.1,278.6 466.3,279.2 466.5,277.8 466.7,278.4 466.8,281.1 467.0,280.4 467.2,278.8 467.4,281.2 467.6,278.8 467.7,280.7 468.0,278.8 468.1,280.8 468.3,279.3 468.5,280.8 468.7,278.1 468.9,279.1 469.1,278.9 469.2,280.5 469.4,280.8 469.6,278.1 469.8,279.1 470.0,278.3 470.2,277.9 470.4,278.1 470.6,277.9 470.7,278.8 470.9,279.2 471.1,280.9 471.3,280.0 471.4,280.4 471.6,278.9 471.8,278.9 472.0,279.2 472.2,278.5 472.4,277.8 472.6,278.7 472.7,281.0 472.9,277.9 473.1,279.5 473.3,278.6 473.4,280.5 473.7,277.9 473.8,279.6 474.0,280.3 474.2,279.4 474.4,278.2 474.5,280.9 474.7,277.8 474.9,281.1 475.1,280.7 475.2,280.9 475.4,280.9 475.6,279.1 475.8,280.0 476.0,279.4 476.2,279.9 476.4,279.1 476.5,280.8 476.7,278.9 476.9,279.8 477.1,278.0 477.3,278.0 477.4,281.0 477.6,279.1 477.8,279.1 478.0,281.3 478.2,280.4 478.4,278.3 478.5,279.7 478.7,279.5 478.9,280.0 479.1,278.8 479.3,278.8 479.4,281.2 479.6,279.9 479.8,279.8 480.0,280.3 480.2,280.5 480.4,278.4 480.5,280.6 480.7,279.5 480.9,278.4 481.1,278.9 481.3,281.4 481.5,280.9 481.6,281.1 481.8,279.6 482.0,280.1 482.2,279.2 482.4,280.5 482.6,279.8 482.8,279.1 482.9,281.3 483.1,279.6 483.3,278.0 483.5,280.8 483.7,278.2 483.9,278.8 484.0,279.5 484.2,278.6 484.4,279.5 484.6,279.4 484.8,279.8 484.9,280.2 485.1,280.3 485.3,278.0 485.5,278.7 485.7,278.3 485.9,279.1 486.0,279.5 486.2,280.9 486.4,277.9 486.6,280.8 486.8,278.4 486.9,280.5 487.1,280.9 487.3,281.4 487.5,279.9 487.7,278.1 487.9,278.9 488.0,279.4 488.2,280.3 488.4,281.4 488.6,281.0 488.8,278.1 488.9,278.3 489.1,280.2 489.3,278.6 489.5,280.0 489.7,279.7 489.8,279.8 490.0,279.1 490.2,281.2 490.4,278.9 490.6,279.2 490.8,278.5 490.9,278.9 491.1,278.4 491.3,280.2 491.5,278.0 491.7,278.8 491.8,280.8 492.0,281.0 492.2,279.1 492.4,280.5 492.5,280.8 492.7,280.2 492.9,280.1 493.1,280.6 493.3,279.1 493.5,279.1 493.6,278.8 493.8,278.7 494.0,279.8 494.2,279.9 494.4,278.6 494.6,278.2 494.7,278.0 494.9,278.7 495.1,278.5 495.3,280.2 495.4,280.8 495.6,279.9 495.8,280.2 496.0,279.4 496.2,278.2 496.4,280.6 496.5,280.7 496.7,278.5 496.9,279.1 497.1,280.4 497.3,280.5 497.5,278.5 497.6,279.3 497.8,279.3 498.0,279.9 498.2,280.9 498.4,278.5 498.5,279.3 498.7,281.3 498.9,278.6 499.1,278.6 499.3,280.8 499.4,280.2 499.6,279.7 499.8,279.6 500.0,278.2 500.2,280.3 500.4,278.9 500.5,279.5 500.7,281.3 500.9,279.7 501.1,279.4 501.3,279.2 501.5,279.0 501.6,280.2 501.8,280.5 502.0,278.4 502.2,278.0 502.4,279.4 502.6,278.6 502.7,280.1 502.9,278.6 503.1,279.8 503.3,279.7 503.5,281.5 503.7,279.1 503.8,278.9 504.0,279.2 504.2,280.4 504.4,278.8 504.6,278.9 504.8,280.5 504.9,279.9 505.1,278.2 505.3,281.0 505.5,278.4 505.7,279.1 505.9,280.0 506.0,279.6 506.2,280.8 506.4,278.5 506.6,280.4 506.8,278.6 507.0,278.4 507.1,280.5 507.3,280.8 507.5,278.4 507.7,278.1 507.9,278.7 508.0,280.1 508.2,278.1 508.4,281.4 508.6,278.1 508.8,280.7 509.0,280.9 509.1,279.4 509.3,280.9 509.5,278.6 509.7,280.8 509.9,280.1 510.0,281.1 510.2,280.9 510.4,280.9 510.6,281.1 510.8,278.9 511.0,278.1 511.1,278.6 511.3,280.7 511.5,279.9 511.7,279.8 511.9,279.7 512.1,278.1 512.2,281.4 512.4,280.1 512.6,280.1 512.8,279.8 513.0,281.2 513.1,279.7 513.3,280.0 513.5,280.9 513.7,278.6 513.9,281.0 514.1,280.3 514.2,279.2 514.4,278.6 514.6,279.9 514.8,279.1 515.0,278.1 515.1,281.0 515.3,280.7 515.5,281.3 515.7,280.8 515.9,279.5 516.1,281.3 516.3,278.9 516.4,279.0 516.6,279.7 516.8,280.5 517.0,278.4 517.2,278.3 517.3,281.4 517.5,278.1 517.7,280.7 517.9,279.7 518.1,281.5 518.3,281.2 518.4,279.7 518.6,280.0 518.8,280.6 519.0,279.0 519.2,278.1 519.4,281.6 519.5,280.0 519.7,280.9 519.9,280.0 520.1,278.3 520.3,278.4 520.5,278.9 520.6,281.5 520.8,281.0 521.0,279.1 521.2,279.7 521.4,281.6 521.6,279.9 521.7,279.2 521.9,280.0 522.1,278.7 522.3,280.1 522.5,278.3 522.6,280.0 522.8,278.5 523.0,278.2 523.2,280.8 523.4,279.9 523.6,278.7 523.7,279.5 523.9,281.3 524.1,279.4 524.3,279.1 524.5,279.8 524.6,281.3 524.8,280.3 525.0,279.8 525.2,280.4 525.4,279.4 525.5,281.5 525.7,279.1 525.9,278.9 526.1,279.9 526.3,281.0 526.4,280.9 526.6,280.5 526.8,278.1 527.0,281.0 527.2,281.4 527.4,278.6 527.5,278.8 527.7,278.9 527.9,278.6 528.1,278.6 528.3,279.9 528.4,280.6 528.6,279.8 528.8,280.1 529.0,280.6 529.1,281.1 529.3,281.6 529.5,280.7 529.7,279.9 529.9,278.3 530.1,279.2 530.2,278.8 530.4,281.6 530.6,280.7 530.8,278.6 531.0,279.3 531.1,279.6 531.3,280.4 531.5,281.6 531.7,279.3 531.9,280.6 532.0,279.6 532.2,281.4 532.4,279.9 532.6,280.9 532.8,280.2 532.9,280.7 533.1,280.9 533.3,279.5 533.5,279.7 533.7,280.4 533.8,280.7 534.0,280.3 534.2,279.4 534.4,279.9 534.6,280.0 534.8,279.5 534.9,279.3 535.1,278.4 535.3,278.4 535.5,278.7 535.7,278.5 535.8,279.5 536.0,281.6 536.2,279.6 536.4,281.4 536.6,280.6 536.7,281.5 536.9,280.5 537.1,281.6 537.3,281.1 537.5,278.4 537.7,278.2 537.8,281.6 538.0,279.4 538.2,280.5 538.4,281.6 538.6,281.7 538.8,280.1 538.9,279.4 539.1,280.3 539.3,280.7 539.5,278.5 539.7,281.1 539.9,278.2 540.0,279.6 540.2,281.2 540.4,281.4 540.6,281.3 540.8,281.3 540.9,279.8 541.1,279.7 541.3,279.9 541.5,280.0 541.7,279.0 541.8,279.5 542.0,279.9 542.2,278.3 542.4,280.2 542.6,278.4 542.7,280.2 542.9,278.4 543.1,278.9 543.3,279.8 543.5,280.9 543.6,281.8 543.8,281.0 544.0,281.1"/>
</g>
<path d="M52.04 279.80L52.04 275.80 M60.71 279.80L60.71 275.80 M69.39 279.80L69.39 271.50 M78.07 279.80L78.07 275.80 M86.74 279.80L86.74 275.80 M95.42 279.80L95.42 275.80 M104.09 279.80L104.09 275.80 M112.77 279.80L112.77 271.50 M121.45 279.80L121.45 275.80 M130.12 279.80L130.12 275.80 M138.80 279.80L138.80 275.80 M147.47 279.80L147.47 275.80 M156.15 279.80L156.15 271.50 M164.83 279.80L164.83 275.80 M173.50 279.80L173.50 275.80 M182.18 279.80L182.18 275.80 M190.85 279.80L190.85 275.80 M199.53 279.80L199.53 271.50 M208.21 279.80L208.21 275.80 M216.88 279.80L216.88 275.80 M225.56 279.80L225.56 275.80 M234.23 279.80L234.23 275.80 M242.91 279.80L242.91 271.50 M251.59 279.80L251.59 275.80 M260.26 279.80L260.26 275.80 M47.40 279.80L55.70 279.80 M47.40 261.80L51.40 261.80 M47.40 243.80L51.40 243.80 M47.40 225.80L51.40 225.80 M47.40 207.80L51.40 207.80 M47.40 189.80L55.70 189.80 M47.40 171.80L51.40 171.80 M47.40 153.80L51.40 153.80 M47.40 135.80L51.40 135.80 M47.40 117.80L51.40 117.80 M47.40 99.80L55.70 99.80 M47.40 81.80L51.40 81.80 M47.40 63.80L51.40 63.80 M47.40 45.80L51.40 45.80 M47.40 27.80L51.40 27.80 M329.95 280.70L329.95 272.40 M337.11 280.70L337.11 276.70 M344.26 280.70L344.26 276.70 M351.41 280.70L351.41 276.70 M358.57 280.70L358.57 276.70 M365.73 280.70L365.73 272.40 M372.88 280.70L372.88 276.70 M380.04 280.70L380.04 276.70 M387.19 280.70L387.19 276.70 M394.35 280.70L394.35 276.70 M401.50 280.70L401.50 272.40 M408.65 280.70L408.65 276.70 M415.81 280.70L415.81 276.70 M422.97 280.70L422.97 276.70 M430.12 280.70L430.12 276.70 M437.27 280.70L437.27 272.40 M444.43 280.70L444.43 276.70 M451.59 280.70L451.59 276.70 M458.74 280.70L458.74 276.70 M465.89 280.70L465.89 276.70 M473.05 280.70L473.05 272.40 M480.21 280.70L480.21 276.70 M487.36 280.70L487.36 276.70 M494.51 280.70L494.51 276.70 M501.67 280.70L501.67 276.70 M508.83 280.70L508.83 272.40 M515.98 280.70L515.98 276.70 M523.13 280.70L523.13 276.70 M530.29 280.70L530.29 276.70 M537.44 280.70L537.44 276.70 M329.95 280.70L338.25 280.70 M329.95 263.77L333.95 263.77 M329.95 246.84L338.25 246.84 M329.95 229.91L333.95 229.91 M329.95 212.97L338.25 212.97 M329.95 196.04L333.95 196.04 M329.95 179.11L338.25 179.11 M329.95 162.18L333.95 162.18 M329.95 145.25L338.25 145.25 M329.95 128.32L333.95 128.32 M329.95 111.39L338.25 111.39 M329.95 94.46L333.95 94.46 M329.95 77.53L338.25 77.53 M329.95 60.59L333.95 60.59 M329.95 43.66L338.25 43.66 M329.95 26.73L333.95 26.73" stroke="#000" stroke-width="1.5" fill="none"/>
<rect x="47.40" y="9.80" width="216.90" height="270.00" fill="none" stroke="#000" stroke-width="1.80"/>
<rect x="329.95" y="9.80" width="214.65" height="270.90" fill="none" stroke="#000" stroke-width="1.80"/>
<rect x="182.60" y="21.20" width="72.4" height="62.5" fill="#fff" stroke="#000" stroke-width="1.6"/>
<line x1="187.40" y1="30.70" x2="204.90" y2="30.70" stroke="#000000" stroke-width="1.9"/>
<text x="214.00" y="35.40" class="t">W=2</text>
<line x1="187.40" y1="45.07" x2="204.90" y2="45.07" stroke="#0000ff" stroke-width="1.9"/>
<text x="214.00" y="49.77" class="t">W=8</text>
<line x1="187.40" y1="59.44" x2="204.90" y2="59.44" stroke="#00a000" stroke-width="1.9"/>
<text x="214.00" y="64.14" class="t">W=12</text>
<line x1="187.40" y1="73.81" x2="204.90" y2="73.81" stroke="#ff0000" stroke-width="1.9"/>
<text x="214.00" y="78.51" class="t">W=18</text>
<rect x="462.60" y="21.20" width="72.4" height="62.5" fill="#fff" stroke="#000" stroke-width="1.6"/>
<line x1="467.40" y1="30.70" x2="484.90" y2="30.70" stroke="#000000" stroke-width="1.9"/>
<text x="494.00" y="35.40" class="t">W=2</text>
<line x1="467.40" y1="45.07" x2="484.90" y2="45.07" stroke="#0000ff" stroke-width="1.9"/>
<text x="494.00" y="49.77" class="t">W=8</text>
<line x1="467.40" y1="59.44" x2="484.90" y2="59.44" stroke="#00a000" stroke-width="1.9"/>
<text x="494.00" y="64.14" class="t">W=12</text>
<line x1="467.40" y1="73.81" x2="484.90" y2="73.81" stroke="#ff0000" stroke-width="1.9"/>
<text x="494.00" y="78.51" class="t">W=18</text>
<text x="43.60" y="284.70" text-anchor="end" class="t">0</text>
<text x="43.60" y="194.70" text-anchor="end" class="t">0.05</text>
<text x="43.60" y="104.70" text-anchor="end" class="t">0.1</text>
<text x="69.39" y="294.90" text-anchor="middle" class="t">-10</text>
<text x="112.77" y="294.90" text-anchor="middle" class="t">-5</text>
<text x="156.15" y="294.90" text-anchor="middle" class="t">0</text>
<text x="199.53" y="294.90" text-anchor="middle" class="t">5</text>
<text x="242.91" y="294.90" text-anchor="middle" class="t">10</text>
<text x="156.50" y="306.90" text-anchor="middle" class="t">&#969;</text>
<text x="325.90" y="286.00" text-anchor="end" class="t">0</text>
<text x="325.90" y="252.14" text-anchor="end" class="t">10</text>
<text x="325.90" y="218.28" text-anchor="end" class="t">20</text>
<text x="325.90" y="184.41" text-anchor="end" class="t">30</text>
<text x="325.90" y="150.55" text-anchor="end" class="t">40</text>
<text x="325.90" y="116.69" text-anchor="end" class="t">50</text>
<text x="325.90" y="82.83" text-anchor="end" class="t">60</text>
<text x="325.90" y="48.96" text-anchor="end" class="t">70</text>
<text x="325.90" y="15.10" text-anchor="end" class="t">80</text>
<text x="329.95" y="296.30" text-anchor="middle" class="t">0</text>
<text x="365.73" y="296.30" text-anchor="middle" class="t">0.05</text>
<text x="401.50" y="296.30" text-anchor="middle" class="t">0.1</text>
<text x="437.27" y="296.30" text-anchor="middle" class="t">0.15</text>
<text x="473.05" y="296.30" text-anchor="middle" class="t">0.2</text>
<text x="508.83" y="296.30" text-anchor="middle" class="t">0.25</text>
<text x="430.3" y="308.2" class="t"><tspan class="rho">&#961;</tspan><tspan class="sub" dx="0.6" dy="5.3">ii</tspan></text>
<text transform="translate(13.3,144.2) rotate(-90)" text-anchor="middle" class="t lab">ADOS</text>
<text transform="translate(302.3,191.4) rotate(-90)" class="t lab">Probability (<tspan class="rho">&#961;</tspan><tspan class="sub" dx="0.3" dy="4.6">ii</tspan><tspan dy="-4.6">)</tspan></text>
<text x="55.6" y="25.6" class="tag">a)</text>
<text x="339.0" y="28.5" class="tag">b)</text>
</svg>
</body></html>
